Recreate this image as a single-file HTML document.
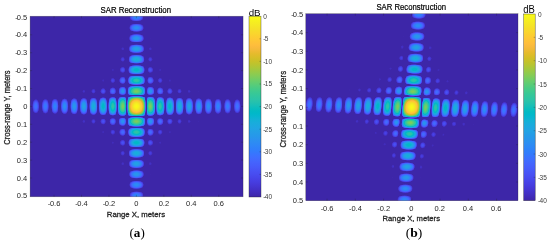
<!DOCTYPE html>
<html lang="en"><head><meta charset="utf-8"><title>SAR Reconstruction</title>
<style>html,body{margin:0;padding:0;background:#fff}svg{display:block}text{white-space:pre;font-family:"Liberation Sans",sans-serif}text.cap{font-family:"Liberation Serif",serif}</style></head>
<body>
<svg width="550" height="244" viewBox="0 0 550 244">
<defs>
<linearGradient id="gua" gradientUnits="userSpaceOnUse" x1="22.025" y1="106.3" x2="250.975" y2="106.3"><stop offset="0" stop-color="#000000"/><stop offset="0.00218" stop-color="#000000"/><stop offset="0.00437" stop-color="#090000"/><stop offset="0.00655" stop-color="#180000"/><stop offset="0.00874" stop-color="#240000"/><stop offset="0.01092" stop-color="#2c0000"/><stop offset="0.0131" stop-color="#310000"/><stop offset="0.01529" stop-color="#350000"/><stop offset="0.01747" stop-color="#380000"/><stop offset="0.01965" stop-color="#370000"/><stop offset="0.02184" stop-color="#340000"/><stop offset="0.02402" stop-color="#2f0000"/><stop offset="0.02621" stop-color="#290000"/><stop offset="0.02839" stop-color="#1f0000"/><stop offset="0.03057" stop-color="#110000"/><stop offset="0.03276" stop-color="#000000"/><stop offset="0.04368" stop-color="#000000"/><stop offset="0.04586" stop-color="#090000"/><stop offset="0.04805" stop-color="#1b0000"/><stop offset="0.05023" stop-color="#260000"/><stop offset="0.05241" stop-color="#2f0000"/><stop offset="0.0546" stop-color="#350000"/><stop offset="0.05678" stop-color="#3a0000"/><stop offset="0.05896" stop-color="#3c0000"/><stop offset="0.06115" stop-color="#3c0000"/><stop offset="0.06333" stop-color="#3a0000"/><stop offset="0.06552" stop-color="#360000"/><stop offset="0.0677" stop-color="#2f0000"/><stop offset="0.06988" stop-color="#260000"/><stop offset="0.07207" stop-color="#1a0000"/><stop offset="0.07425" stop-color="#070000"/><stop offset="0.07644" stop-color="#000000"/><stop offset="0.08517" stop-color="#000000"/><stop offset="0.08736" stop-color="#0b0000"/><stop offset="0.08954" stop-color="#1d0000"/><stop offset="0.09172" stop-color="#2a0000"/><stop offset="0.09391" stop-color="#330000"/><stop offset="0.09609" stop-color="#3a0000"/><stop offset="0.09827" stop-color="#3e0000"/><stop offset="0.10046" stop-color="#410000"/><stop offset="0.10264" stop-color="#420000"/><stop offset="0.10483" stop-color="#400000"/><stop offset="0.10701" stop-color="#3c0000"/><stop offset="0.10919" stop-color="#360000"/><stop offset="0.11138" stop-color="#2e0000"/><stop offset="0.11356" stop-color="#220000"/><stop offset="0.11575" stop-color="#110000"/><stop offset="0.11793" stop-color="#000000"/><stop offset="0.12667" stop-color="#000000"/><stop offset="0.12885" stop-color="#0c0000"/><stop offset="0.13103" stop-color="#200000"/><stop offset="0.13322" stop-color="#2e0000"/><stop offset="0.1354" stop-color="#370000"/><stop offset="0.13758" stop-color="#3f0000"/><stop offset="0.13977" stop-color="#440000"/><stop offset="0.14195" stop-color="#470000"/><stop offset="0.14414" stop-color="#490000"/><stop offset="0.14632" stop-color="#470000"/><stop offset="0.1485" stop-color="#430000"/><stop offset="0.15069" stop-color="#3e0000"/><stop offset="0.15287" stop-color="#360000"/><stop offset="0.15506" stop-color="#2b0000"/><stop offset="0.15724" stop-color="#1c0000"/><stop offset="0.15942" stop-color="#030000"/><stop offset="0.16161" stop-color="#000000"/><stop offset="0.16816" stop-color="#000000"/><stop offset="0.17034" stop-color="#0d0000"/><stop offset="0.17253" stop-color="#230000"/><stop offset="0.17471" stop-color="#320000"/><stop offset="0.17689" stop-color="#3c0000"/><stop offset="0.17908" stop-color="#440000"/><stop offset="0.18126" stop-color="#4a0000"/><stop offset="0.18345" stop-color="#4d0000"/><stop offset="0.18563" stop-color="#4f0000"/><stop offset="0.18781" stop-color="#4e0000"/><stop offset="0.19" stop-color="#4b0000"/><stop offset="0.19218" stop-color="#460000"/><stop offset="0.19437" stop-color="#3f0000"/><stop offset="0.19655" stop-color="#350000"/><stop offset="0.19873" stop-color="#260000"/><stop offset="0.20092" stop-color="#100000"/><stop offset="0.2031" stop-color="#000000"/><stop offset="0.20965" stop-color="#000000"/><stop offset="0.21184" stop-color="#0f0000"/><stop offset="0.21402" stop-color="#270000"/><stop offset="0.2162" stop-color="#370000"/><stop offset="0.21839" stop-color="#420000"/><stop offset="0.22057" stop-color="#4a0000"/><stop offset="0.22276" stop-color="#500000"/><stop offset="0.22494" stop-color="#550000"/><stop offset="0.22712" stop-color="#570000"/><stop offset="0.22931" stop-color="#570000"/><stop offset="0.23149" stop-color="#540000"/><stop offset="0.23368" stop-color="#500000"/><stop offset="0.23586" stop-color="#490000"/><stop offset="0.23804" stop-color="#400000"/><stop offset="0.24023" stop-color="#320000"/><stop offset="0.24241" stop-color="#1e0000"/><stop offset="0.24459" stop-color="#000000"/><stop offset="0.25115" stop-color="#000000"/><stop offset="0.25333" stop-color="#110000"/><stop offset="0.25551" stop-color="#2c0000"/><stop offset="0.2577" stop-color="#3d0000"/><stop offset="0.25988" stop-color="#490000"/><stop offset="0.26207" stop-color="#520000"/><stop offset="0.26425" stop-color="#580000"/><stop offset="0.26643" stop-color="#5d0000"/><stop offset="0.26862" stop-color="#600000"/><stop offset="0.2708" stop-color="#610000"/><stop offset="0.27299" stop-color="#5e0000"/><stop offset="0.27517" stop-color="#5a0000"/><stop offset="0.27735" stop-color="#540000"/><stop offset="0.27954" stop-color="#4b0000"/><stop offset="0.28172" stop-color="#3f0000"/><stop offset="0.2839" stop-color="#2d0000"/><stop offset="0.28609" stop-color="#0e0000"/><stop offset="0.28827" stop-color="#000000"/><stop offset="0.29264" stop-color="#000000"/><stop offset="0.29482" stop-color="#130000"/><stop offset="0.29701" stop-color="#320000"/><stop offset="0.29919" stop-color="#440000"/><stop offset="0.30138" stop-color="#510000"/><stop offset="0.30356" stop-color="#5b0000"/><stop offset="0.30574" stop-color="#620000"/><stop offset="0.30793" stop-color="#670000"/><stop offset="0.31011" stop-color="#6a0000"/><stop offset="0.3123" stop-color="#6c0000"/><stop offset="0.31448" stop-color="#6a0000"/><stop offset="0.31666" stop-color="#670000"/><stop offset="0.31885" stop-color="#610000"/><stop offset="0.32103" stop-color="#590000"/><stop offset="0.32321" stop-color="#4e0000"/><stop offset="0.3254" stop-color="#3d0000"/><stop offset="0.32758" stop-color="#220000"/><stop offset="0.32977" stop-color="#000000"/><stop offset="0.33413" stop-color="#000000"/><stop offset="0.33632" stop-color="#170000"/><stop offset="0.3385" stop-color="#390000"/><stop offset="0.34069" stop-color="#4e0000"/><stop offset="0.34287" stop-color="#5c0000"/><stop offset="0.34505" stop-color="#660000"/><stop offset="0.34724" stop-color="#6e0000"/><stop offset="0.34942" stop-color="#740000"/><stop offset="0.35161" stop-color="#770000"/><stop offset="0.35379" stop-color="#7a0000"/><stop offset="0.35597" stop-color="#790000"/><stop offset="0.35816" stop-color="#760000"/><stop offset="0.36034" stop-color="#710000"/><stop offset="0.36252" stop-color="#6a0000"/><stop offset="0.36471" stop-color="#600000"/><stop offset="0.36689" stop-color="#500000"/><stop offset="0.36908" stop-color="#380000"/><stop offset="0.37126" stop-color="#060000"/><stop offset="0.37344" stop-color="#000000"/><stop offset="0.37563" stop-color="#000000"/><stop offset="0.37781" stop-color="#1c0000"/><stop offset="0.38" stop-color="#440000"/><stop offset="0.38218" stop-color="#5b0000"/><stop offset="0.38436" stop-color="#6b0000"/><stop offset="0.38655" stop-color="#760000"/><stop offset="0.38873" stop-color="#7e0000"/><stop offset="0.39092" stop-color="#850000"/><stop offset="0.3931" stop-color="#890000"/><stop offset="0.39528" stop-color="#8c0000"/><stop offset="0.39747" stop-color="#8d0000"/><stop offset="0.39965" stop-color="#8a0000"/><stop offset="0.40183" stop-color="#860000"/><stop offset="0.40402" stop-color="#800000"/><stop offset="0.4062" stop-color="#770000"/><stop offset="0.40839" stop-color="#690000"/><stop offset="0.41057" stop-color="#540000"/><stop offset="0.41275" stop-color="#2b0000"/><stop offset="0.41494" stop-color="#000000"/><stop offset="0.41712" stop-color="#000000"/><stop offset="0.41931" stop-color="#260000"/><stop offset="0.42149" stop-color="#560000"/><stop offset="0.42367" stop-color="#6f0000"/><stop offset="0.42586" stop-color="#800000"/><stop offset="0.42804" stop-color="#8d0000"/><stop offset="0.43022" stop-color="#960000"/><stop offset="0.43241" stop-color="#9e0000"/><stop offset="0.43459" stop-color="#a30000"/><stop offset="0.43678" stop-color="#a70000"/><stop offset="0.43896" stop-color="#a90000"/><stop offset="0.44114" stop-color="#a90000"/><stop offset="0.44333" stop-color="#a70000"/><stop offset="0.44551" stop-color="#a20000"/><stop offset="0.4477" stop-color="#9a0000"/><stop offset="0.44988" stop-color="#8f0000"/><stop offset="0.45206" stop-color="#7c0000"/><stop offset="0.45425" stop-color="#5b0000"/><stop offset="0.45643" stop-color="#000000"/><stop offset="0.45862" stop-color="#000000"/><stop offset="0.4608" stop-color="#3c0000"/><stop offset="0.46298" stop-color="#780000"/><stop offset="0.46517" stop-color="#950000"/><stop offset="0.46735" stop-color="#aa0000"/><stop offset="0.46953" stop-color="#b90000"/><stop offset="0.47172" stop-color="#c50000"/><stop offset="0.4739" stop-color="#d00000"/><stop offset="0.47609" stop-color="#d80000"/><stop offset="0.47827" stop-color="#df0000"/><stop offset="0.48045" stop-color="#e60000"/><stop offset="0.48264" stop-color="#eb0000"/><stop offset="0.48482" stop-color="#f00000"/><stop offset="0.48701" stop-color="#f40000"/><stop offset="0.48919" stop-color="#f70000"/><stop offset="0.49137" stop-color="#fa0000"/><stop offset="0.49356" stop-color="#fc0000"/><stop offset="0.49574" stop-color="#fd0000"/><stop offset="0.49793" stop-color="#fe0000"/><stop offset="0.50011" stop-color="#ff0000"/><stop offset="0.50229" stop-color="#fe0000"/><stop offset="0.50448" stop-color="#fd0000"/><stop offset="0.50666" stop-color="#fb0000"/><stop offset="0.50884" stop-color="#f90000"/><stop offset="0.51103" stop-color="#f70000"/><stop offset="0.51321" stop-color="#f30000"/><stop offset="0.5154" stop-color="#ef0000"/><stop offset="0.51758" stop-color="#eb0000"/><stop offset="0.51976" stop-color="#e50000"/><stop offset="0.52195" stop-color="#df0000"/><stop offset="0.52413" stop-color="#d70000"/><stop offset="0.52632" stop-color="#cf0000"/><stop offset="0.5285" stop-color="#c40000"/><stop offset="0.53068" stop-color="#b80000"/><stop offset="0.53287" stop-color="#a80000"/><stop offset="0.53505" stop-color="#930000"/><stop offset="0.53724" stop-color="#740000"/><stop offset="0.53942" stop-color="#300000"/><stop offset="0.5416" stop-color="#000000"/><stop offset="0.54379" stop-color="#000000"/><stop offset="0.54597" stop-color="#600000"/><stop offset="0.54815" stop-color="#7f0000"/><stop offset="0.55034" stop-color="#900000"/><stop offset="0.55252" stop-color="#9b0000"/><stop offset="0.55471" stop-color="#a20000"/><stop offset="0.55689" stop-color="#a70000"/><stop offset="0.55907" stop-color="#aa0000"/><stop offset="0.56126" stop-color="#a90000"/><stop offset="0.56344" stop-color="#a70000"/><stop offset="0.56563" stop-color="#a30000"/><stop offset="0.56781" stop-color="#9d0000"/><stop offset="0.56999" stop-color="#960000"/><stop offset="0.57218" stop-color="#8c0000"/><stop offset="0.57436" stop-color="#7f0000"/><stop offset="0.57655" stop-color="#6d0000"/><stop offset="0.57873" stop-color="#520000"/><stop offset="0.58091" stop-color="#1e0000"/><stop offset="0.5831" stop-color="#000000"/><stop offset="0.58528" stop-color="#000000"/><stop offset="0.58746" stop-color="#310000"/><stop offset="0.58965" stop-color="#560000"/><stop offset="0.59183" stop-color="#6b0000"/><stop offset="0.59402" stop-color="#780000"/><stop offset="0.5962" stop-color="#810000"/><stop offset="0.59838" stop-color="#870000"/><stop offset="0.60057" stop-color="#8b0000"/><stop offset="0.60275" stop-color="#8d0000"/><stop offset="0.60494" stop-color="#8c0000"/><stop offset="0.60712" stop-color="#890000"/><stop offset="0.6093" stop-color="#840000"/><stop offset="0.61149" stop-color="#7e0000"/><stop offset="0.61367" stop-color="#750000"/><stop offset="0.61585" stop-color="#690000"/><stop offset="0.61804" stop-color="#590000"/><stop offset="0.62022" stop-color="#420000"/><stop offset="0.62241" stop-color="#160000"/><stop offset="0.62459" stop-color="#000000"/><stop offset="0.62677" stop-color="#000000"/><stop offset="0.62896" stop-color="#0e0000"/><stop offset="0.63114" stop-color="#3b0000"/><stop offset="0.63333" stop-color="#520000"/><stop offset="0.63551" stop-color="#610000"/><stop offset="0.63769" stop-color="#6b0000"/><stop offset="0.63988" stop-color="#720000"/><stop offset="0.64206" stop-color="#760000"/><stop offset="0.64425" stop-color="#790000"/><stop offset="0.64643" stop-color="#7a0000"/><stop offset="0.64861" stop-color="#770000"/><stop offset="0.6508" stop-color="#730000"/><stop offset="0.65298" stop-color="#6d0000"/><stop offset="0.65516" stop-color="#660000"/><stop offset="0.65735" stop-color="#5b0000"/><stop offset="0.65953" stop-color="#4c0000"/><stop offset="0.66172" stop-color="#370000"/><stop offset="0.6639" stop-color="#120000"/><stop offset="0.66608" stop-color="#000000"/><stop offset="0.67045" stop-color="#000000"/><stop offset="0.67264" stop-color="#250000"/><stop offset="0.67482" stop-color="#3f0000"/><stop offset="0.677" stop-color="#4f0000"/><stop offset="0.67919" stop-color="#5a0000"/><stop offset="0.68137" stop-color="#620000"/><stop offset="0.68356" stop-color="#670000"/><stop offset="0.68574" stop-color="#6a0000"/><stop offset="0.68792" stop-color="#6c0000"/><stop offset="0.69011" stop-color="#6a0000"/><stop offset="0.69229" stop-color="#670000"/><stop offset="0.69447" stop-color="#610000"/><stop offset="0.69666" stop-color="#5a0000"/><stop offset="0.69884" stop-color="#500000"/><stop offset="0.70103" stop-color="#430000"/><stop offset="0.70321" stop-color="#2f0000"/><stop offset="0.70539" stop-color="#0f0000"/><stop offset="0.70758" stop-color="#000000"/><stop offset="0.71195" stop-color="#000000"/><stop offset="0.71413" stop-color="#120000"/><stop offset="0.71631" stop-color="#2f0000"/><stop offset="0.7185" stop-color="#410000"/><stop offset="0.72068" stop-color="#4c0000"/><stop offset="0.72287" stop-color="#550000"/><stop offset="0.72505" stop-color="#5b0000"/><stop offset="0.72723" stop-color="#5f0000"/><stop offset="0.72942" stop-color="#610000"/><stop offset="0.7316" stop-color="#600000"/><stop offset="0.73378" stop-color="#5d0000"/><stop offset="0.73597" stop-color="#580000"/><stop offset="0.73815" stop-color="#510000"/><stop offset="0.74034" stop-color="#480000"/><stop offset="0.74252" stop-color="#3b0000"/><stop offset="0.7447" stop-color="#290000"/><stop offset="0.74689" stop-color="#0d0000"/><stop offset="0.74907" stop-color="#000000"/><stop offset="0.75562" stop-color="#000000"/><stop offset="0.75781" stop-color="#200000"/><stop offset="0.75999" stop-color="#340000"/><stop offset="0.76218" stop-color="#410000"/><stop offset="0.76436" stop-color="#4a0000"/><stop offset="0.76654" stop-color="#500000"/><stop offset="0.76873" stop-color="#540000"/><stop offset="0.77091" stop-color="#570000"/><stop offset="0.77309" stop-color="#570000"/><stop offset="0.77528" stop-color="#540000"/><stop offset="0.77746" stop-color="#500000"/><stop offset="0.77965" stop-color="#4a0000"/><stop offset="0.78183" stop-color="#410000"/><stop offset="0.78401" stop-color="#360000"/><stop offset="0.7862" stop-color="#250000"/><stop offset="0.78838" stop-color="#0b0000"/><stop offset="0.79057" stop-color="#000000"/><stop offset="0.79712" stop-color="#000000"/><stop offset="0.7993" stop-color="#130000"/><stop offset="0.80149" stop-color="#280000"/><stop offset="0.80367" stop-color="#360000"/><stop offset="0.80585" stop-color="#400000"/><stop offset="0.80804" stop-color="#470000"/><stop offset="0.81022" stop-color="#4c0000"/><stop offset="0.8124" stop-color="#4f0000"/><stop offset="0.81459" stop-color="#4f0000"/><stop offset="0.81677" stop-color="#4d0000"/><stop offset="0.81896" stop-color="#490000"/><stop offset="0.82114" stop-color="#430000"/><stop offset="0.82332" stop-color="#3c0000"/><stop offset="0.82551" stop-color="#310000"/><stop offset="0.82769" stop-color="#210000"/><stop offset="0.82988" stop-color="#0a0000"/><stop offset="0.83206" stop-color="#000000"/><stop offset="0.83861" stop-color="#000000"/><stop offset="0.84079" stop-color="#060000"/><stop offset="0.84298" stop-color="#1d0000"/><stop offset="0.84516" stop-color="#2d0000"/><stop offset="0.84735" stop-color="#370000"/><stop offset="0.84953" stop-color="#3f0000"/><stop offset="0.85171" stop-color="#440000"/><stop offset="0.8539" stop-color="#470000"/><stop offset="0.85608" stop-color="#490000"/><stop offset="0.85827" stop-color="#470000"/><stop offset="0.86045" stop-color="#430000"/><stop offset="0.86263" stop-color="#3e0000"/><stop offset="0.86482" stop-color="#370000"/><stop offset="0.867" stop-color="#2c0000"/><stop offset="0.86919" stop-color="#1e0000"/><stop offset="0.87137" stop-color="#090000"/><stop offset="0.87355" stop-color="#000000"/><stop offset="0.88229" stop-color="#000000"/><stop offset="0.88447" stop-color="#130000"/><stop offset="0.88666" stop-color="#240000"/><stop offset="0.88884" stop-color="#2f0000"/><stop offset="0.89102" stop-color="#370000"/><stop offset="0.89321" stop-color="#3d0000"/><stop offset="0.89539" stop-color="#400000"/><stop offset="0.89758" stop-color="#420000"/><stop offset="0.89976" stop-color="#410000"/><stop offset="0.90194" stop-color="#3e0000"/><stop offset="0.90413" stop-color="#390000"/><stop offset="0.90631" stop-color="#320000"/><stop offset="0.9085" stop-color="#290000"/><stop offset="0.91068" stop-color="#1b0000"/><stop offset="0.91286" stop-color="#080000"/><stop offset="0.91505" stop-color="#000000"/><stop offset="0.92378" stop-color="#000000"/><stop offset="0.92597" stop-color="#090000"/><stop offset="0.92815" stop-color="#1b0000"/><stop offset="0.93033" stop-color="#270000"/><stop offset="0.93252" stop-color="#300000"/><stop offset="0.9347" stop-color="#360000"/><stop offset="0.93689" stop-color="#3a0000"/><stop offset="0.93907" stop-color="#3d0000"/><stop offset="0.94125" stop-color="#3c0000"/><stop offset="0.94344" stop-color="#390000"/><stop offset="0.94562" stop-color="#350000"/><stop offset="0.94781" stop-color="#2e0000"/><stop offset="0.94999" stop-color="#250000"/><stop offset="0.95217" stop-color="#190000"/><stop offset="0.95436" stop-color="#070000"/><stop offset="0.95654" stop-color="#000000"/><stop offset="0.96746" stop-color="#000000"/><stop offset="0.96964" stop-color="#130000"/><stop offset="0.97183" stop-color="#200000"/><stop offset="0.97401" stop-color="#290000"/><stop offset="0.9762" stop-color="#300000"/><stop offset="0.97838" stop-color="#340000"/><stop offset="0.98056" stop-color="#370000"/><stop offset="0.98275" stop-color="#370000"/><stop offset="0.98493" stop-color="#350000"/><stop offset="0.98712" stop-color="#310000"/><stop offset="0.9893" stop-color="#2b0000"/><stop offset="0.99148" stop-color="#230000"/><stop offset="0.99367" stop-color="#170000"/><stop offset="0.99585" stop-color="#070000"/><stop offset="0.99803" stop-color="#000000"/></linearGradient>
<linearGradient id="gva" gradientUnits="userSpaceOnUse" x1="136.5" y1="8" x2="136.5" y2="204.6"><stop offset="0" stop-color="#003d00"/><stop offset="0.00254" stop-color="#003800"/><stop offset="0.00509" stop-color="#003100"/><stop offset="0.00763" stop-color="#002800"/><stop offset="0.01017" stop-color="#001b00"/><stop offset="0.01272" stop-color="#000800"/><stop offset="0.01526" stop-color="#000000"/><stop offset="0.02543" stop-color="#000000"/><stop offset="0.02798" stop-color="#000b00"/><stop offset="0.03052" stop-color="#001e00"/><stop offset="0.03306" stop-color="#002b00"/><stop offset="0.03561" stop-color="#003500"/><stop offset="0.03815" stop-color="#003c00"/><stop offset="0.04069" stop-color="#004200"/><stop offset="0.04323" stop-color="#004600"/><stop offset="0.04578" stop-color="#004800"/><stop offset="0.04832" stop-color="#004900"/><stop offset="0.05086" stop-color="#004700"/><stop offset="0.05341" stop-color="#004300"/><stop offset="0.05595" stop-color="#003e00"/><stop offset="0.05849" stop-color="#003700"/><stop offset="0.06104" stop-color="#002e00"/><stop offset="0.06358" stop-color="#002100"/><stop offset="0.06612" stop-color="#000e00"/><stop offset="0.06867" stop-color="#000000"/><stop offset="0.07884" stop-color="#000000"/><stop offset="0.08138" stop-color="#001300"/><stop offset="0.08393" stop-color="#002600"/><stop offset="0.08647" stop-color="#003300"/><stop offset="0.08901" stop-color="#003c00"/><stop offset="0.09156" stop-color="#004300"/><stop offset="0.0941" stop-color="#004900"/><stop offset="0.09664" stop-color="#004d00"/><stop offset="0.09919" stop-color="#004f00"/><stop offset="0.10173" stop-color="#004f00"/><stop offset="0.10427" stop-color="#004e00"/><stop offset="0.10682" stop-color="#004a00"/><stop offset="0.10936" stop-color="#004500"/><stop offset="0.1119" stop-color="#003e00"/><stop offset="0.11445" stop-color="#003500"/><stop offset="0.11699" stop-color="#002800"/><stop offset="0.11953" stop-color="#001400"/><stop offset="0.12208" stop-color="#000000"/><stop offset="0.13225" stop-color="#000000"/><stop offset="0.13479" stop-color="#001b00"/><stop offset="0.13733" stop-color="#002e00"/><stop offset="0.13988" stop-color="#003b00"/><stop offset="0.14242" stop-color="#004400"/><stop offset="0.14496" stop-color="#004b00"/><stop offset="0.14751" stop-color="#005100"/><stop offset="0.15005" stop-color="#005400"/><stop offset="0.15259" stop-color="#005700"/><stop offset="0.15514" stop-color="#005700"/><stop offset="0.15768" stop-color="#005500"/><stop offset="0.16022" stop-color="#005200"/><stop offset="0.16277" stop-color="#004d00"/><stop offset="0.16531" stop-color="#004600"/><stop offset="0.16785" stop-color="#003d00"/><stop offset="0.1704" stop-color="#002f00"/><stop offset="0.17294" stop-color="#001c00"/><stop offset="0.17548" stop-color="#000000"/><stop offset="0.18311" stop-color="#000000"/><stop offset="0.18566" stop-color="#000800"/><stop offset="0.1882" stop-color="#002500"/><stop offset="0.19074" stop-color="#003700"/><stop offset="0.19329" stop-color="#004400"/><stop offset="0.19583" stop-color="#004d00"/><stop offset="0.19837" stop-color="#005500"/><stop offset="0.20092" stop-color="#005a00"/><stop offset="0.20346" stop-color="#005e00"/><stop offset="0.206" stop-color="#006000"/><stop offset="0.20855" stop-color="#006100"/><stop offset="0.21109" stop-color="#005f00"/><stop offset="0.21363" stop-color="#005b00"/><stop offset="0.21617" stop-color="#005600"/><stop offset="0.21872" stop-color="#004f00"/><stop offset="0.22126" stop-color="#004600"/><stop offset="0.2238" stop-color="#003800"/><stop offset="0.22635" stop-color="#002400"/><stop offset="0.22889" stop-color="#000200"/><stop offset="0.23143" stop-color="#000000"/><stop offset="0.23652" stop-color="#000000"/><stop offset="0.23906" stop-color="#001400"/><stop offset="0.24161" stop-color="#003000"/><stop offset="0.24415" stop-color="#004200"/><stop offset="0.24669" stop-color="#004f00"/><stop offset="0.24924" stop-color="#005800"/><stop offset="0.25178" stop-color="#006000"/><stop offset="0.25432" stop-color="#006500"/><stop offset="0.25687" stop-color="#006900"/><stop offset="0.25941" stop-color="#006b00"/><stop offset="0.26195" stop-color="#006c00"/><stop offset="0.2645" stop-color="#006a00"/><stop offset="0.26704" stop-color="#006700"/><stop offset="0.26958" stop-color="#006200"/><stop offset="0.27213" stop-color="#005b00"/><stop offset="0.27467" stop-color="#005100"/><stop offset="0.27721" stop-color="#004400"/><stop offset="0.27976" stop-color="#003000"/><stop offset="0.2823" stop-color="#000c00"/><stop offset="0.28484" stop-color="#000000"/><stop offset="0.28993" stop-color="#000000"/><stop offset="0.29247" stop-color="#002200"/><stop offset="0.29502" stop-color="#003e00"/><stop offset="0.29756" stop-color="#005000"/><stop offset="0.3001" stop-color="#005c00"/><stop offset="0.30264" stop-color="#006600"/><stop offset="0.30519" stop-color="#006d00"/><stop offset="0.30773" stop-color="#007300"/><stop offset="0.31027" stop-color="#007600"/><stop offset="0.31282" stop-color="#007900"/><stop offset="0.31536" stop-color="#007a00"/><stop offset="0.3179" stop-color="#007800"/><stop offset="0.32045" stop-color="#007500"/><stop offset="0.32299" stop-color="#007000"/><stop offset="0.32553" stop-color="#006900"/><stop offset="0.32808" stop-color="#006000"/><stop offset="0.33062" stop-color="#005200"/><stop offset="0.33316" stop-color="#003e00"/><stop offset="0.33571" stop-color="#001a00"/><stop offset="0.33825" stop-color="#000000"/><stop offset="0.34334" stop-color="#000000"/><stop offset="0.34588" stop-color="#003400"/><stop offset="0.34842" stop-color="#004f00"/><stop offset="0.35097" stop-color="#006100"/><stop offset="0.35351" stop-color="#006e00"/><stop offset="0.35605" stop-color="#007700"/><stop offset="0.3586" stop-color="#007f00"/><stop offset="0.36114" stop-color="#008400"/><stop offset="0.36368" stop-color="#008900"/><stop offset="0.36623" stop-color="#008b00"/><stop offset="0.36877" stop-color="#008d00"/><stop offset="0.37131" stop-color="#008c00"/><stop offset="0.37386" stop-color="#008900"/><stop offset="0.3764" stop-color="#008400"/><stop offset="0.37894" stop-color="#007e00"/><stop offset="0.38149" stop-color="#007400"/><stop offset="0.38403" stop-color="#006700"/><stop offset="0.38657" stop-color="#005300"/><stop offset="0.38911" stop-color="#002e00"/><stop offset="0.39166" stop-color="#000000"/><stop offset="0.3942" stop-color="#000000"/><stop offset="0.39674" stop-color="#001600"/><stop offset="0.39929" stop-color="#004c00"/><stop offset="0.40183" stop-color="#006800"/><stop offset="0.40437" stop-color="#007a00"/><stop offset="0.40692" stop-color="#008700"/><stop offset="0.40946" stop-color="#009100"/><stop offset="0.412" stop-color="#009900"/><stop offset="0.41455" stop-color="#009f00"/><stop offset="0.41709" stop-color="#00a400"/><stop offset="0.41963" stop-color="#00a700"/><stop offset="0.42218" stop-color="#00a900"/><stop offset="0.42472" stop-color="#00aa00"/><stop offset="0.42726" stop-color="#00a800"/><stop offset="0.42981" stop-color="#00a400"/><stop offset="0.43235" stop-color="#009e00"/><stop offset="0.43489" stop-color="#009600"/><stop offset="0.43744" stop-color="#008900"/><stop offset="0.43998" stop-color="#007600"/><stop offset="0.44252" stop-color="#005000"/><stop offset="0.44507" stop-color="#000000"/><stop offset="0.44761" stop-color="#000000"/><stop offset="0.45015" stop-color="#004100"/><stop offset="0.4527" stop-color="#007700"/><stop offset="0.45524" stop-color="#009300"/><stop offset="0.45778" stop-color="#00a600"/><stop offset="0.46033" stop-color="#00b500"/><stop offset="0.46287" stop-color="#00c100"/><stop offset="0.46541" stop-color="#00cb00"/><stop offset="0.46796" stop-color="#00d400"/><stop offset="0.4705" stop-color="#00db00"/><stop offset="0.47304" stop-color="#00e100"/><stop offset="0.47558" stop-color="#00e700"/><stop offset="0.47813" stop-color="#00ec00"/><stop offset="0.48067" stop-color="#00f000"/><stop offset="0.48321" stop-color="#00f300"/><stop offset="0.48576" stop-color="#00f700"/><stop offset="0.4883" stop-color="#00f900"/><stop offset="0.49084" stop-color="#00fb00"/><stop offset="0.49339" stop-color="#00fd00"/><stop offset="0.49593" stop-color="#00fe00"/><stop offset="0.49847" stop-color="#00ff00"/><stop offset="0.50102" stop-color="#00ff00"/><stop offset="0.50356" stop-color="#00fe00"/><stop offset="0.5061" stop-color="#00fd00"/><stop offset="0.50865" stop-color="#00fb00"/><stop offset="0.51119" stop-color="#00f900"/><stop offset="0.51373" stop-color="#00f700"/><stop offset="0.51628" stop-color="#00f400"/><stop offset="0.51882" stop-color="#00f100"/><stop offset="0.52136" stop-color="#00ed00"/><stop offset="0.52391" stop-color="#00e800"/><stop offset="0.52645" stop-color="#00e300"/><stop offset="0.52899" stop-color="#00dc00"/><stop offset="0.53154" stop-color="#00d500"/><stop offset="0.53408" stop-color="#00cd00"/><stop offset="0.53662" stop-color="#00c300"/><stop offset="0.53917" stop-color="#00b800"/><stop offset="0.54171" stop-color="#00a900"/><stop offset="0.54425" stop-color="#009700"/><stop offset="0.5468" stop-color="#007d00"/><stop offset="0.54934" stop-color="#005000"/><stop offset="0.55188" stop-color="#000000"/><stop offset="0.55443" stop-color="#000000"/><stop offset="0.55697" stop-color="#004400"/><stop offset="0.55951" stop-color="#007000"/><stop offset="0.56205" stop-color="#008600"/><stop offset="0.5646" stop-color="#009400"/><stop offset="0.56714" stop-color="#009d00"/><stop offset="0.56968" stop-color="#00a300"/><stop offset="0.57223" stop-color="#00a700"/><stop offset="0.57477" stop-color="#00a900"/><stop offset="0.57731" stop-color="#00aa00"/><stop offset="0.57986" stop-color="#00a800"/><stop offset="0.5824" stop-color="#00a500"/><stop offset="0.58494" stop-color="#00a000"/><stop offset="0.58749" stop-color="#009a00"/><stop offset="0.59003" stop-color="#009300"/><stop offset="0.59257" stop-color="#008900"/><stop offset="0.59512" stop-color="#007d00"/><stop offset="0.59766" stop-color="#006c00"/><stop offset="0.6002" stop-color="#005300"/><stop offset="0.60275" stop-color="#002600"/><stop offset="0.60529" stop-color="#000000"/><stop offset="0.60783" stop-color="#000000"/><stop offset="0.61038" stop-color="#002100"/><stop offset="0.61292" stop-color="#004d00"/><stop offset="0.61546" stop-color="#006400"/><stop offset="0.61801" stop-color="#007200"/><stop offset="0.62055" stop-color="#007c00"/><stop offset="0.62309" stop-color="#008300"/><stop offset="0.62564" stop-color="#008800"/><stop offset="0.62818" stop-color="#008b00"/><stop offset="0.63072" stop-color="#008d00"/><stop offset="0.63327" stop-color="#008c00"/><stop offset="0.63581" stop-color="#008900"/><stop offset="0.63835" stop-color="#008500"/><stop offset="0.6409" stop-color="#008000"/><stop offset="0.64344" stop-color="#007900"/><stop offset="0.64598" stop-color="#007000"/><stop offset="0.64852" stop-color="#006400"/><stop offset="0.65107" stop-color="#005300"/><stop offset="0.65361" stop-color="#003b00"/><stop offset="0.65615" stop-color="#000c00"/><stop offset="0.6587" stop-color="#000000"/><stop offset="0.66124" stop-color="#000000"/><stop offset="0.66378" stop-color="#000e00"/><stop offset="0.66633" stop-color="#003900"/><stop offset="0.66887" stop-color="#004f00"/><stop offset="0.67141" stop-color="#005e00"/><stop offset="0.67396" stop-color="#006800"/><stop offset="0.6765" stop-color="#006f00"/><stop offset="0.67904" stop-color="#007400"/><stop offset="0.68159" stop-color="#007800"/><stop offset="0.68413" stop-color="#007a00"/><stop offset="0.68667" stop-color="#007900"/><stop offset="0.68922" stop-color="#007700"/><stop offset="0.69176" stop-color="#007300"/><stop offset="0.6943" stop-color="#006e00"/><stop offset="0.69685" stop-color="#006700"/><stop offset="0.69939" stop-color="#005e00"/><stop offset="0.70193" stop-color="#005200"/><stop offset="0.70448" stop-color="#004200"/><stop offset="0.70702" stop-color="#002900"/><stop offset="0.70956" stop-color="#000000"/><stop offset="0.71465" stop-color="#000000"/><stop offset="0.71719" stop-color="#000100"/><stop offset="0.71974" stop-color="#002a00"/><stop offset="0.72228" stop-color="#004000"/><stop offset="0.72482" stop-color="#004f00"/><stop offset="0.72737" stop-color="#005900"/><stop offset="0.72991" stop-color="#006100"/><stop offset="0.73245" stop-color="#006600"/><stop offset="0.73499" stop-color="#006a00"/><stop offset="0.73754" stop-color="#006c00"/><stop offset="0.74008" stop-color="#006b00"/><stop offset="0.74262" stop-color="#006900"/><stop offset="0.74517" stop-color="#006600"/><stop offset="0.74771" stop-color="#006100"/><stop offset="0.75025" stop-color="#005a00"/><stop offset="0.7528" stop-color="#005100"/><stop offset="0.75534" stop-color="#004500"/><stop offset="0.75788" stop-color="#003400"/><stop offset="0.76043" stop-color="#001b00"/><stop offset="0.76297" stop-color="#000000"/><stop offset="0.7706" stop-color="#000000"/><stop offset="0.77314" stop-color="#001f00"/><stop offset="0.77569" stop-color="#003500"/><stop offset="0.77823" stop-color="#004400"/><stop offset="0.78077" stop-color="#004e00"/><stop offset="0.78332" stop-color="#005500"/><stop offset="0.78586" stop-color="#005b00"/><stop offset="0.7884" stop-color="#005e00"/><stop offset="0.79095" stop-color="#006000"/><stop offset="0.79349" stop-color="#006000"/><stop offset="0.79603" stop-color="#005e00"/><stop offset="0.79858" stop-color="#005b00"/><stop offset="0.80112" stop-color="#005600"/><stop offset="0.80366" stop-color="#004f00"/><stop offset="0.80621" stop-color="#004600"/><stop offset="0.80875" stop-color="#003a00"/><stop offset="0.81129" stop-color="#002900"/><stop offset="0.81384" stop-color="#001000"/><stop offset="0.81638" stop-color="#000000"/><stop offset="0.82401" stop-color="#000000"/><stop offset="0.82655" stop-color="#001600"/><stop offset="0.82909" stop-color="#002c00"/><stop offset="0.83164" stop-color="#003a00"/><stop offset="0.83418" stop-color="#004400"/><stop offset="0.83672" stop-color="#004c00"/><stop offset="0.83927" stop-color="#005100"/><stop offset="0.84181" stop-color="#005500"/><stop offset="0.84435" stop-color="#005700"/><stop offset="0.8469" stop-color="#005700"/><stop offset="0.84944" stop-color="#005500"/><stop offset="0.85198" stop-color="#005200"/><stop offset="0.85453" stop-color="#004d00"/><stop offset="0.85707" stop-color="#004600"/><stop offset="0.85961" stop-color="#003d00"/><stop offset="0.86216" stop-color="#003100"/><stop offset="0.8647" stop-color="#002000"/><stop offset="0.86724" stop-color="#000600"/><stop offset="0.86979" stop-color="#000000"/><stop offset="0.87742" stop-color="#000000"/><stop offset="0.87996" stop-color="#000f00"/><stop offset="0.8825" stop-color="#002400"/><stop offset="0.88505" stop-color="#003200"/><stop offset="0.88759" stop-color="#003d00"/><stop offset="0.89013" stop-color="#004400"/><stop offset="0.89268" stop-color="#004900"/><stop offset="0.89522" stop-color="#004d00"/><stop offset="0.89776" stop-color="#004f00"/><stop offset="0.90031" stop-color="#004f00"/><stop offset="0.90285" stop-color="#004d00"/><stop offset="0.90539" stop-color="#004a00"/><stop offset="0.90793" stop-color="#004500"/><stop offset="0.91048" stop-color="#003e00"/><stop offset="0.91302" stop-color="#003500"/><stop offset="0.91556" stop-color="#002900"/><stop offset="0.91811" stop-color="#001700"/><stop offset="0.92065" stop-color="#000000"/><stop offset="0.93082" stop-color="#000000"/><stop offset="0.93337" stop-color="#000900"/><stop offset="0.93591" stop-color="#001e00"/><stop offset="0.93845" stop-color="#002c00"/><stop offset="0.941" stop-color="#003600"/><stop offset="0.94354" stop-color="#003d00"/><stop offset="0.94608" stop-color="#004200"/><stop offset="0.94863" stop-color="#004600"/><stop offset="0.95117" stop-color="#004800"/><stop offset="0.95371" stop-color="#004800"/><stop offset="0.95626" stop-color="#004600"/><stop offset="0.9588" stop-color="#004300"/><stop offset="0.96134" stop-color="#003e00"/><stop offset="0.96389" stop-color="#003700"/><stop offset="0.96643" stop-color="#002e00"/><stop offset="0.96897" stop-color="#002100"/><stop offset="0.97152" stop-color="#001000"/><stop offset="0.97406" stop-color="#000000"/><stop offset="0.98423" stop-color="#000000"/><stop offset="0.98678" stop-color="#000300"/><stop offset="0.98932" stop-color="#001800"/><stop offset="0.99186" stop-color="#002600"/><stop offset="0.9944" stop-color="#003000"/><stop offset="0.99695" stop-color="#003700"/><stop offset="0.99949" stop-color="#003c00"/></linearGradient>
<clipPath id="cpa"><rect x="30.1" y="16.2" width="212.95" height="180.6"/></clipPath>
<filter id="pma" filterUnits="userSpaceOnUse" x="28" y="14" width="218" height="185" color-interpolation-filters="sRGB"><feColorMatrix type="matrix" values="1 1 0 0 -1 1 1 0 0 -1 1 1 0 0 -1 0 0 0 0 1"/><feComponentTransfer><feFuncR type="table" tableValues="0.2422 0.2504 0.2578 0.2647 0.2706 0.2751 0.2783 0.2803 0.2813 0.281 0.2795 0.276 0.2699 0.2602 0.244 0.2206 0.1963 0.1834 0.1786 0.1764 0.1687 0.154 0.146 0.138 0.1248 0.1113 0.0952 0.0689 0.0297 0.0036 0.0067 0.0433 0.0964 0.1408 0.1717 0.1938 0.2161 0.247 0.2906 0.3406 0.3909 0.4456 0.5044 0.5616 0.6174 0.672 0.7242 0.7738 0.8203 0.8634 0.9035 0.9393 0.9728 0.9956 0.997 0.9952 0.9892 0.9786 0.9676 0.961 0.9597 0.9628 0.9691 0.9769"/><feFuncG type="table" tableValues="0.1504 0.165 0.1818 0.1978 0.2147 0.2342 0.2559 0.2782 0.3006 0.3228 0.3447 0.3667 0.3892 0.4123 0.4358 0.4603 0.4847 0.5074 0.5289 0.5499 0.5703 0.5902 0.6091 0.6276 0.6459 0.6635 0.6798 0.6948 0.7082 0.7203 0.7312 0.7411 0.75 0.7584 0.767 0.7758 0.7843 0.7918 0.7973 0.8008 0.8029 0.8024 0.7993 0.7942 0.7876 0.7793 0.7698 0.7598 0.7498 0.7406 0.733 0.7288 0.7298 0.7434 0.7659 0.7893 0.8136 0.8386 0.8639 0.889 0.9135 0.9373 0.9606 0.9839"/><feFuncB type="table" tableValues="0.6603 0.7076 0.7511 0.7952 0.8364 0.871 0.8991 0.9221 0.9414 0.9579 0.9717 0.9829 0.9906 0.9952 0.9988 0.9973 0.9892 0.9798 0.9682 0.952 0.9359 0.9218 0.9079 0.8973 0.8883 0.8763 0.8598 0.8394 0.8163 0.7917 0.766 0.7394 0.712 0.6842 0.6554 0.6251 0.5923 0.5567 0.5188 0.4789 0.4354 0.3909 0.348 0.3045 0.2612 0.2227 0.191 0.1646 0.1535 0.1596 0.1774 0.21 0.2394 0.2371 0.2199 0.2028 0.1885 0.1766 0.1643 0.1537 0.1423 0.1265 0.1064 0.0805"/></feComponentTransfer></filter>
<linearGradient id="cba" x1="0" y1="0" x2="0" y2="1"><stop offset="0" stop-color="#f9fb15"/><stop offset="0.0159" stop-color="#f7f51b"/><stop offset="0.0317" stop-color="#f6ef20"/><stop offset="0.0476" stop-color="#f5e924"/><stop offset="0.0635" stop-color="#f5e327"/><stop offset="0.0794" stop-color="#f7dc2a"/><stop offset="0.0952" stop-color="#fad62d"/><stop offset="0.1111" stop-color="#fccf30"/><stop offset="0.127" stop-color="#fec934"/><stop offset="0.1429" stop-color="#fec338"/><stop offset="0.1587" stop-color="#febe3c"/><stop offset="0.1746" stop-color="#f8ba3d"/><stop offset="0.1905" stop-color="#f0ba36"/><stop offset="0.2063" stop-color="#e6bb2d"/><stop offset="0.2222" stop-color="#dcbd29"/><stop offset="0.2381" stop-color="#d1bf27"/><stop offset="0.254" stop-color="#c5c22a"/><stop offset="0.2698" stop-color="#b9c431"/><stop offset="0.2857" stop-color="#abc739"/><stop offset="0.3016" stop-color="#9dc943"/><stop offset="0.3175" stop-color="#8fcb4e"/><stop offset="0.3333" stop-color="#81cc59"/><stop offset="0.3492" stop-color="#72cd64"/><stop offset="0.3651" stop-color="#64cd6f"/><stop offset="0.381" stop-color="#57cc7a"/><stop offset="0.3968" stop-color="#4acb84"/><stop offset="0.4127" stop-color="#3fca8e"/><stop offset="0.4286" stop-color="#37c897"/><stop offset="0.4444" stop-color="#31c69f"/><stop offset="0.4603" stop-color="#2cc4a7"/><stop offset="0.4762" stop-color="#24c1ae"/><stop offset="0.4921" stop-color="#19bfb6"/><stop offset="0.5079" stop-color="#0bbdbd"/><stop offset="0.5238" stop-color="#02bac3"/><stop offset="0.5397" stop-color="#01b8ca"/><stop offset="0.5556" stop-color="#08b5d0"/><stop offset="0.5714" stop-color="#12b1d6"/><stop offset="0.5873" stop-color="#18addb"/><stop offset="0.6032" stop-color="#1ca9df"/><stop offset="0.619" stop-color="#20a5e3"/><stop offset="0.6349" stop-color="#23a0e5"/><stop offset="0.6508" stop-color="#259be8"/><stop offset="0.6667" stop-color="#2797eb"/><stop offset="0.6825" stop-color="#2b91ef"/><stop offset="0.6984" stop-color="#2d8cf3"/><stop offset="0.7143" stop-color="#2e87f7"/><stop offset="0.7302" stop-color="#2f81fa"/><stop offset="0.746" stop-color="#327cfc"/><stop offset="0.7619" stop-color="#3875fe"/><stop offset="0.7778" stop-color="#3e6fff"/><stop offset="0.7937" stop-color="#4269fe"/><stop offset="0.8095" stop-color="#4563fd"/><stop offset="0.8254" stop-color="#465efb"/><stop offset="0.8413" stop-color="#4758f8"/><stop offset="0.8571" stop-color="#4852f4"/><stop offset="0.873" stop-color="#484df0"/><stop offset="0.8889" stop-color="#4747eb"/><stop offset="0.9048" stop-color="#4741e5"/><stop offset="0.9206" stop-color="#463cde"/><stop offset="0.9365" stop-color="#4537d5"/><stop offset="0.9524" stop-color="#4332cb"/><stop offset="0.9683" stop-color="#422ec0"/><stop offset="0.9841" stop-color="#402ab4"/><stop offset="1" stop-color="#3e26a8"/></linearGradient>
<linearGradient id="gub" gradientUnits="userSpaceOnUse" x1="291.015" y1="97.815" x2="532.185" y2="116.385"><stop offset="0" stop-color="#310000"/><stop offset="0.00206" stop-color="#2d0000"/><stop offset="0.00412" stop-color="#280000"/><stop offset="0.00618" stop-color="#200000"/><stop offset="0.00824" stop-color="#150000"/><stop offset="0.01031" stop-color="#050000"/><stop offset="0.01237" stop-color="#000000"/><stop offset="0.02267" stop-color="#000000"/><stop offset="0.02473" stop-color="#0b0000"/><stop offset="0.02679" stop-color="#1a0000"/><stop offset="0.02885" stop-color="#250000"/><stop offset="0.03092" stop-color="#2c0000"/><stop offset="0.03298" stop-color="#320000"/><stop offset="0.03504" stop-color="#360000"/><stop offset="0.0371" stop-color="#380000"/><stop offset="0.03916" stop-color="#370000"/><stop offset="0.04122" stop-color="#340000"/><stop offset="0.04328" stop-color="#300000"/><stop offset="0.04534" stop-color="#290000"/><stop offset="0.0474" stop-color="#200000"/><stop offset="0.04946" stop-color="#120000"/><stop offset="0.05153" stop-color="#000000"/><stop offset="0.06183" stop-color="#000000"/><stop offset="0.06389" stop-color="#060000"/><stop offset="0.06595" stop-color="#180000"/><stop offset="0.06801" stop-color="#240000"/><stop offset="0.07007" stop-color="#2d0000"/><stop offset="0.07214" stop-color="#340000"/><stop offset="0.0742" stop-color="#390000"/><stop offset="0.07626" stop-color="#3c0000"/><stop offset="0.07832" stop-color="#3d0000"/><stop offset="0.08038" stop-color="#3b0000"/><stop offset="0.08244" stop-color="#370000"/><stop offset="0.0845" stop-color="#320000"/><stop offset="0.08656" stop-color="#2a0000"/><stop offset="0.08862" stop-color="#1f0000"/><stop offset="0.09068" stop-color="#0f0000"/><stop offset="0.09275" stop-color="#000000"/><stop offset="0.10305" stop-color="#000000"/><stop offset="0.10511" stop-color="#150000"/><stop offset="0.10717" stop-color="#240000"/><stop offset="0.10923" stop-color="#2f0000"/><stop offset="0.11129" stop-color="#360000"/><stop offset="0.11336" stop-color="#3c0000"/><stop offset="0.11542" stop-color="#400000"/><stop offset="0.11748" stop-color="#420000"/><stop offset="0.11954" stop-color="#420000"/><stop offset="0.1216" stop-color="#3f0000"/><stop offset="0.12366" stop-color="#3a0000"/><stop offset="0.12572" stop-color="#340000"/><stop offset="0.12778" stop-color="#2b0000"/><stop offset="0.12984" stop-color="#1e0000"/><stop offset="0.1319" stop-color="#0b0000"/><stop offset="0.13397" stop-color="#000000"/><stop offset="0.14221" stop-color="#000000"/><stop offset="0.14427" stop-color="#100000"/><stop offset="0.14633" stop-color="#230000"/><stop offset="0.14839" stop-color="#2f0000"/><stop offset="0.15045" stop-color="#390000"/><stop offset="0.15252" stop-color="#3f0000"/><stop offset="0.15458" stop-color="#440000"/><stop offset="0.15664" stop-color="#470000"/><stop offset="0.1587" stop-color="#490000"/><stop offset="0.16076" stop-color="#470000"/><stop offset="0.16282" stop-color="#430000"/><stop offset="0.16488" stop-color="#3e0000"/><stop offset="0.16694" stop-color="#360000"/><stop offset="0.169" stop-color="#2c0000"/><stop offset="0.17106" stop-color="#1c0000"/><stop offset="0.17313" stop-color="#050000"/><stop offset="0.17519" stop-color="#000000"/><stop offset="0.18137" stop-color="#000000"/><stop offset="0.18343" stop-color="#0a0000"/><stop offset="0.18549" stop-color="#210000"/><stop offset="0.18755" stop-color="#300000"/><stop offset="0.18961" stop-color="#3b0000"/><stop offset="0.19167" stop-color="#430000"/><stop offset="0.19374" stop-color="#490000"/><stop offset="0.1958" stop-color="#4d0000"/><stop offset="0.19786" stop-color="#4f0000"/><stop offset="0.19992" stop-color="#4f0000"/><stop offset="0.20198" stop-color="#4c0000"/><stop offset="0.20404" stop-color="#480000"/><stop offset="0.2061" stop-color="#420000"/><stop offset="0.20816" stop-color="#390000"/><stop offset="0.21022" stop-color="#2c0000"/><stop offset="0.21228" stop-color="#1a0000"/><stop offset="0.21435" stop-color="#000000"/><stop offset="0.22259" stop-color="#000000"/><stop offset="0.22465" stop-color="#1d0000"/><stop offset="0.22671" stop-color="#300000"/><stop offset="0.22877" stop-color="#3d0000"/><stop offset="0.23083" stop-color="#470000"/><stop offset="0.23289" stop-color="#4e0000"/><stop offset="0.23496" stop-color="#530000"/><stop offset="0.23702" stop-color="#560000"/><stop offset="0.23908" stop-color="#580000"/><stop offset="0.24114" stop-color="#560000"/><stop offset="0.2432" stop-color="#530000"/><stop offset="0.24526" stop-color="#4d0000"/><stop offset="0.24732" stop-color="#460000"/><stop offset="0.24938" stop-color="#3c0000"/><stop offset="0.25144" stop-color="#2d0000"/><stop offset="0.2535" stop-color="#160000"/><stop offset="0.25557" stop-color="#000000"/><stop offset="0.26175" stop-color="#000000"/><stop offset="0.26381" stop-color="#190000"/><stop offset="0.26587" stop-color="#300000"/><stop offset="0.26793" stop-color="#400000"/><stop offset="0.26999" stop-color="#4b0000"/><stop offset="0.27205" stop-color="#530000"/><stop offset="0.27411" stop-color="#590000"/><stop offset="0.27618" stop-color="#5d0000"/><stop offset="0.27824" stop-color="#600000"/><stop offset="0.2803" stop-color="#600000"/><stop offset="0.28236" stop-color="#5e0000"/><stop offset="0.28442" stop-color="#5a0000"/><stop offset="0.28648" stop-color="#540000"/><stop offset="0.28854" stop-color="#4b0000"/><stop offset="0.2906" stop-color="#3f0000"/><stop offset="0.29266" stop-color="#2d0000"/><stop offset="0.29473" stop-color="#0f0000"/><stop offset="0.29679" stop-color="#000000"/><stop offset="0.30091" stop-color="#000000"/><stop offset="0.30297" stop-color="#100000"/><stop offset="0.30503" stop-color="#300000"/><stop offset="0.30709" stop-color="#430000"/><stop offset="0.30915" stop-color="#500000"/><stop offset="0.31121" stop-color="#5a0000"/><stop offset="0.31327" stop-color="#610000"/><stop offset="0.31534" stop-color="#660000"/><stop offset="0.3174" stop-color="#6a0000"/><stop offset="0.31946" stop-color="#6c0000"/><stop offset="0.32152" stop-color="#6b0000"/><stop offset="0.32358" stop-color="#680000"/><stop offset="0.32564" stop-color="#630000"/><stop offset="0.3277" stop-color="#5c0000"/><stop offset="0.32976" stop-color="#520000"/><stop offset="0.33182" stop-color="#430000"/><stop offset="0.33388" stop-color="#2d0000"/><stop offset="0.33595" stop-color="#020000"/><stop offset="0.33801" stop-color="#000000"/><stop offset="0.34213" stop-color="#000000"/><stop offset="0.34419" stop-color="#2e0000"/><stop offset="0.34625" stop-color="#460000"/><stop offset="0.34831" stop-color="#570000"/><stop offset="0.35037" stop-color="#620000"/><stop offset="0.35243" stop-color="#6b0000"/><stop offset="0.35449" stop-color="#710000"/><stop offset="0.35656" stop-color="#760000"/><stop offset="0.35862" stop-color="#790000"/><stop offset="0.36068" stop-color="#7a0000"/><stop offset="0.36274" stop-color="#780000"/><stop offset="0.3648" stop-color="#740000"/><stop offset="0.36686" stop-color="#6f0000"/><stop offset="0.36892" stop-color="#660000"/><stop offset="0.37098" stop-color="#5b0000"/><stop offset="0.37304" stop-color="#490000"/><stop offset="0.3751" stop-color="#2c0000"/><stop offset="0.37717" stop-color="#000000"/><stop offset="0.38129" stop-color="#000000"/><stop offset="0.38335" stop-color="#2b0000"/><stop offset="0.38541" stop-color="#4c0000"/><stop offset="0.38747" stop-color="#600000"/><stop offset="0.38953" stop-color="#6e0000"/><stop offset="0.39159" stop-color="#780000"/><stop offset="0.39365" stop-color="#800000"/><stop offset="0.39571" stop-color="#860000"/><stop offset="0.39778" stop-color="#8a0000"/><stop offset="0.39984" stop-color="#8c0000"/><stop offset="0.4019" stop-color="#8c0000"/><stop offset="0.40396" stop-color="#8a0000"/><stop offset="0.40602" stop-color="#860000"/><stop offset="0.40808" stop-color="#7f0000"/><stop offset="0.41014" stop-color="#760000"/><stop offset="0.4122" stop-color="#680000"/><stop offset="0.41426" stop-color="#530000"/><stop offset="0.41632" stop-color="#2a0000"/><stop offset="0.41839" stop-color="#000000"/><stop offset="0.42045" stop-color="#000000"/><stop offset="0.42251" stop-color="#240000"/><stop offset="0.42457" stop-color="#550000"/><stop offset="0.42663" stop-color="#6e0000"/><stop offset="0.42869" stop-color="#7f0000"/><stop offset="0.43075" stop-color="#8c0000"/><stop offset="0.43281" stop-color="#960000"/><stop offset="0.43487" stop-color="#9d0000"/><stop offset="0.43694" stop-color="#a20000"/><stop offset="0.439" stop-color="#a70000"/><stop offset="0.44106" stop-color="#a90000"/><stop offset="0.44312" stop-color="#aa0000"/><stop offset="0.44518" stop-color="#a70000"/><stop offset="0.44724" stop-color="#a30000"/><stop offset="0.4493" stop-color="#9c0000"/><stop offset="0.45136" stop-color="#920000"/><stop offset="0.45342" stop-color="#830000"/><stop offset="0.45548" stop-color="#680000"/><stop offset="0.45755" stop-color="#240000"/><stop offset="0.45961" stop-color="#000000"/><stop offset="0.46167" stop-color="#070000"/><stop offset="0.46373" stop-color="#690000"/><stop offset="0.46579" stop-color="#8c0000"/><stop offset="0.46785" stop-color="#a30000"/><stop offset="0.46991" stop-color="#b30000"/><stop offset="0.47197" stop-color="#c10000"/><stop offset="0.47403" stop-color="#cb0000"/><stop offset="0.47609" stop-color="#d40000"/><stop offset="0.47816" stop-color="#dc0000"/><stop offset="0.48022" stop-color="#e30000"/><stop offset="0.48228" stop-color="#e90000"/><stop offset="0.48434" stop-color="#ed0000"/><stop offset="0.4864" stop-color="#f20000"/><stop offset="0.48846" stop-color="#f50000"/><stop offset="0.49052" stop-color="#f80000"/><stop offset="0.49258" stop-color="#fb0000"/><stop offset="0.49464" stop-color="#fc0000"/><stop offset="0.4967" stop-color="#fe0000"/><stop offset="0.49877" stop-color="#ff0000"/><stop offset="0.50083" stop-color="#ff0000"/><stop offset="0.50289" stop-color="#fe0000"/><stop offset="0.50495" stop-color="#fd0000"/><stop offset="0.50701" stop-color="#fb0000"/><stop offset="0.50907" stop-color="#f90000"/><stop offset="0.51113" stop-color="#f60000"/><stop offset="0.51319" stop-color="#f20000"/><stop offset="0.51525" stop-color="#ee0000"/><stop offset="0.51731" stop-color="#ea0000"/><stop offset="0.51938" stop-color="#e40000"/><stop offset="0.52144" stop-color="#de0000"/><stop offset="0.5235" stop-color="#d60000"/><stop offset="0.52556" stop-color="#cd0000"/><stop offset="0.52762" stop-color="#c30000"/><stop offset="0.52968" stop-color="#b60000"/><stop offset="0.53174" stop-color="#a60000"/><stop offset="0.5338" stop-color="#910000"/><stop offset="0.53586" stop-color="#720000"/><stop offset="0.53792" stop-color="#2b0000"/><stop offset="0.53999" stop-color="#000000"/><stop offset="0.54205" stop-color="#000000"/><stop offset="0.54411" stop-color="#600000"/><stop offset="0.54617" stop-color="#7f0000"/><stop offset="0.54823" stop-color="#900000"/><stop offset="0.55029" stop-color="#9b0000"/><stop offset="0.55235" stop-color="#a20000"/><stop offset="0.55441" stop-color="#a70000"/><stop offset="0.55647" stop-color="#a90000"/><stop offset="0.55853" stop-color="#a90000"/><stop offset="0.5606" stop-color="#a70000"/><stop offset="0.56266" stop-color="#a30000"/><stop offset="0.56472" stop-color="#9e0000"/><stop offset="0.56678" stop-color="#970000"/><stop offset="0.56884" stop-color="#8e0000"/><stop offset="0.5709" stop-color="#820000"/><stop offset="0.57296" stop-color="#720000"/><stop offset="0.57502" stop-color="#5b0000"/><stop offset="0.57708" stop-color="#320000"/><stop offset="0.57915" stop-color="#000000"/><stop offset="0.58121" stop-color="#000000"/><stop offset="0.58327" stop-color="#1c0000"/><stop offset="0.58533" stop-color="#4d0000"/><stop offset="0.58739" stop-color="#650000"/><stop offset="0.58945" stop-color="#740000"/><stop offset="0.59151" stop-color="#7e0000"/><stop offset="0.59357" stop-color="#850000"/><stop offset="0.59563" stop-color="#890000"/><stop offset="0.59769" stop-color="#8c0000"/><stop offset="0.59976" stop-color="#8c0000"/><stop offset="0.60182" stop-color="#8a0000"/><stop offset="0.60388" stop-color="#860000"/><stop offset="0.60594" stop-color="#810000"/><stop offset="0.608" stop-color="#7a0000"/><stop offset="0.61006" stop-color="#700000"/><stop offset="0.61212" stop-color="#630000"/><stop offset="0.61418" stop-color="#500000"/><stop offset="0.61624" stop-color="#330000"/><stop offset="0.6183" stop-color="#000000"/><stop offset="0.62243" stop-color="#000000"/><stop offset="0.62449" stop-color="#240000"/><stop offset="0.62655" stop-color="#450000"/><stop offset="0.62861" stop-color="#580000"/><stop offset="0.63067" stop-color="#640000"/><stop offset="0.63273" stop-color="#6d0000"/><stop offset="0.63479" stop-color="#730000"/><stop offset="0.63685" stop-color="#770000"/><stop offset="0.63891" stop-color="#7a0000"/><stop offset="0.64098" stop-color="#790000"/><stop offset="0.64304" stop-color="#770000"/><stop offset="0.6451" stop-color="#720000"/><stop offset="0.64716" stop-color="#6c0000"/><stop offset="0.64922" stop-color="#640000"/><stop offset="0.65128" stop-color="#590000"/><stop offset="0.65334" stop-color="#4a0000"/><stop offset="0.6554" stop-color="#340000"/><stop offset="0.65746" stop-color="#0d0000"/><stop offset="0.65952" stop-color="#000000"/><stop offset="0.66365" stop-color="#000000"/><stop offset="0.66571" stop-color="#270000"/><stop offset="0.66777" stop-color="#400000"/><stop offset="0.66983" stop-color="#4f0000"/><stop offset="0.67189" stop-color="#5a0000"/><stop offset="0.67395" stop-color="#620000"/><stop offset="0.67601" stop-color="#670000"/><stop offset="0.67807" stop-color="#6a0000"/><stop offset="0.68013" stop-color="#6c0000"/><stop offset="0.6822" stop-color="#6a0000"/><stop offset="0.68426" stop-color="#670000"/><stop offset="0.68632" stop-color="#620000"/><stop offset="0.68838" stop-color="#5c0000"/><stop offset="0.69044" stop-color="#520000"/><stop offset="0.6925" stop-color="#460000"/><stop offset="0.69456" stop-color="#340000"/><stop offset="0.69662" stop-color="#180000"/><stop offset="0.69868" stop-color="#000000"/><stop offset="0.70281" stop-color="#000000"/><stop offset="0.70487" stop-color="#060000"/><stop offset="0.70693" stop-color="#280000"/><stop offset="0.70899" stop-color="#3c0000"/><stop offset="0.71105" stop-color="#490000"/><stop offset="0.71311" stop-color="#520000"/><stop offset="0.71517" stop-color="#590000"/><stop offset="0.71723" stop-color="#5d0000"/><stop offset="0.71929" stop-color="#600000"/><stop offset="0.72135" stop-color="#600000"/><stop offset="0.72342" stop-color="#5e0000"/><stop offset="0.72548" stop-color="#5a0000"/><stop offset="0.72754" stop-color="#550000"/><stop offset="0.7296" stop-color="#4d0000"/><stop offset="0.73166" stop-color="#420000"/><stop offset="0.73372" stop-color="#340000"/><stop offset="0.73578" stop-color="#1e0000"/><stop offset="0.73784" stop-color="#000000"/><stop offset="0.74403" stop-color="#000000"/><stop offset="0.74609" stop-color="#0f0000"/><stop offset="0.74815" stop-color="#290000"/><stop offset="0.75021" stop-color="#390000"/><stop offset="0.75227" stop-color="#440000"/><stop offset="0.75433" stop-color="#4c0000"/><stop offset="0.75639" stop-color="#520000"/><stop offset="0.75845" stop-color="#550000"/><stop offset="0.76051" stop-color="#570000"/><stop offset="0.76258" stop-color="#560000"/><stop offset="0.76464" stop-color="#530000"/><stop offset="0.7667" stop-color="#4f0000"/><stop offset="0.76876" stop-color="#480000"/><stop offset="0.77082" stop-color="#3f0000"/><stop offset="0.77288" stop-color="#330000"/><stop offset="0.77494" stop-color="#220000"/><stop offset="0.777" stop-color="#070000"/><stop offset="0.77906" stop-color="#000000"/><stop offset="0.78525" stop-color="#000000"/><stop offset="0.78731" stop-color="#150000"/><stop offset="0.78937" stop-color="#290000"/><stop offset="0.79143" stop-color="#370000"/><stop offset="0.79349" stop-color="#400000"/><stop offset="0.79555" stop-color="#470000"/><stop offset="0.79761" stop-color="#4c0000"/><stop offset="0.79967" stop-color="#4f0000"/><stop offset="0.80173" stop-color="#4f0000"/><stop offset="0.8038" stop-color="#4d0000"/><stop offset="0.80586" stop-color="#4a0000"/><stop offset="0.80792" stop-color="#440000"/><stop offset="0.80998" stop-color="#3d0000"/><stop offset="0.81204" stop-color="#320000"/><stop offset="0.8141" stop-color="#240000"/><stop offset="0.81616" stop-color="#0f0000"/><stop offset="0.81822" stop-color="#000000"/><stop offset="0.82647" stop-color="#000000"/><stop offset="0.82853" stop-color="#190000"/><stop offset="0.83059" stop-color="#290000"/><stop offset="0.83265" stop-color="#340000"/><stop offset="0.83471" stop-color="#3d0000"/><stop offset="0.83677" stop-color="#420000"/><stop offset="0.83883" stop-color="#460000"/><stop offset="0.84089" stop-color="#480000"/><stop offset="0.84295" stop-color="#480000"/><stop offset="0.84502" stop-color="#450000"/><stop offset="0.84708" stop-color="#400000"/><stop offset="0.84914" stop-color="#3a0000"/><stop offset="0.8512" stop-color="#310000"/><stop offset="0.85326" stop-color="#250000"/><stop offset="0.85532" stop-color="#140000"/><stop offset="0.85738" stop-color="#000000"/><stop offset="0.86563" stop-color="#000000"/><stop offset="0.86769" stop-color="#060000"/><stop offset="0.86975" stop-color="#1b0000"/><stop offset="0.87181" stop-color="#290000"/><stop offset="0.87387" stop-color="#320000"/><stop offset="0.87593" stop-color="#390000"/><stop offset="0.87799" stop-color="#3e0000"/><stop offset="0.88005" stop-color="#410000"/><stop offset="0.88211" stop-color="#420000"/><stop offset="0.88418" stop-color="#400000"/><stop offset="0.88624" stop-color="#3d0000"/><stop offset="0.8883" stop-color="#380000"/><stop offset="0.89036" stop-color="#300000"/><stop offset="0.89242" stop-color="#260000"/><stop offset="0.89448" stop-color="#180000"/><stop offset="0.89654" stop-color="#040000"/><stop offset="0.8986" stop-color="#000000"/><stop offset="0.90685" stop-color="#000000"/><stop offset="0.90891" stop-color="#0c0000"/><stop offset="0.91097" stop-color="#1c0000"/><stop offset="0.91303" stop-color="#280000"/><stop offset="0.91509" stop-color="#300000"/><stop offset="0.91715" stop-color="#360000"/><stop offset="0.91921" stop-color="#3a0000"/><stop offset="0.92127" stop-color="#3d0000"/><stop offset="0.92333" stop-color="#3c0000"/><stop offset="0.9254" stop-color="#390000"/><stop offset="0.92746" stop-color="#350000"/><stop offset="0.92952" stop-color="#2f0000"/><stop offset="0.93158" stop-color="#260000"/><stop offset="0.93364" stop-color="#1b0000"/><stop offset="0.9357" stop-color="#0a0000"/><stop offset="0.93776" stop-color="#000000"/><stop offset="0.94807" stop-color="#000000"/><stop offset="0.95013" stop-color="#0f0000"/><stop offset="0.95219" stop-color="#1d0000"/><stop offset="0.95425" stop-color="#270000"/><stop offset="0.95631" stop-color="#2e0000"/><stop offset="0.95837" stop-color="#330000"/><stop offset="0.96043" stop-color="#370000"/><stop offset="0.96249" stop-color="#380000"/><stop offset="0.96455" stop-color="#360000"/><stop offset="0.96662" stop-color="#330000"/><stop offset="0.96868" stop-color="#2d0000"/><stop offset="0.97074" stop-color="#260000"/><stop offset="0.9728" stop-color="#1c0000"/><stop offset="0.97486" stop-color="#0f0000"/><stop offset="0.97692" stop-color="#000000"/><stop offset="0.98723" stop-color="#000000"/><stop offset="0.98929" stop-color="#010000"/><stop offset="0.99135" stop-color="#120000"/><stop offset="0.99341" stop-color="#1e0000"/><stop offset="0.99547" stop-color="#260000"/><stop offset="0.99753" stop-color="#2c0000"/><stop offset="0.99959" stop-color="#300000"/></linearGradient>
<linearGradient id="gvb" gradientUnits="userSpaceOnUse" x1="414.416" y1="2.811" x2="408.784" y2="211.389"><stop offset="0" stop-color="#003f00"/><stop offset="0.0024" stop-color="#004200"/><stop offset="0.00479" stop-color="#004300"/><stop offset="0.00719" stop-color="#004100"/><stop offset="0.00958" stop-color="#003e00"/><stop offset="0.01198" stop-color="#003a00"/><stop offset="0.01437" stop-color="#003400"/><stop offset="0.01677" stop-color="#002c00"/><stop offset="0.01916" stop-color="#002100"/><stop offset="0.02156" stop-color="#001200"/><stop offset="0.02395" stop-color="#000000"/><stop offset="0.03593" stop-color="#000000"/><stop offset="0.03833" stop-color="#001200"/><stop offset="0.04072" stop-color="#002200"/><stop offset="0.04312" stop-color="#002e00"/><stop offset="0.04551" stop-color="#003700"/><stop offset="0.04791" stop-color="#003d00"/><stop offset="0.0503" stop-color="#004200"/><stop offset="0.0527" stop-color="#004600"/><stop offset="0.0551" stop-color="#004800"/><stop offset="0.05749" stop-color="#004900"/><stop offset="0.05989" stop-color="#004700"/><stop offset="0.06228" stop-color="#004400"/><stop offset="0.06468" stop-color="#003f00"/><stop offset="0.06707" stop-color="#003900"/><stop offset="0.06947" stop-color="#003000"/><stop offset="0.07186" stop-color="#002500"/><stop offset="0.07426" stop-color="#001500"/><stop offset="0.07665" stop-color="#000000"/><stop offset="0.08624" stop-color="#000000"/><stop offset="0.08863" stop-color="#000700"/><stop offset="0.09103" stop-color="#001d00"/><stop offset="0.09342" stop-color="#002c00"/><stop offset="0.09582" stop-color="#003700"/><stop offset="0.09821" stop-color="#003f00"/><stop offset="0.10061" stop-color="#004500"/><stop offset="0.103" stop-color="#004a00"/><stop offset="0.1054" stop-color="#004d00"/><stop offset="0.1078" stop-color="#004f00"/><stop offset="0.11019" stop-color="#004f00"/><stop offset="0.11259" stop-color="#004d00"/><stop offset="0.11498" stop-color="#004a00"/><stop offset="0.11738" stop-color="#004500"/><stop offset="0.11977" stop-color="#003f00"/><stop offset="0.12217" stop-color="#003600"/><stop offset="0.12456" stop-color="#002900"/><stop offset="0.12696" stop-color="#001800"/><stop offset="0.12935" stop-color="#000000"/><stop offset="0.13894" stop-color="#000000"/><stop offset="0.14133" stop-color="#001300"/><stop offset="0.14373" stop-color="#002800"/><stop offset="0.14612" stop-color="#003600"/><stop offset="0.14852" stop-color="#004000"/><stop offset="0.15091" stop-color="#004800"/><stop offset="0.15331" stop-color="#004e00"/><stop offset="0.1557" stop-color="#005300"/><stop offset="0.1581" stop-color="#005600"/><stop offset="0.16049" stop-color="#005700"/><stop offset="0.16289" stop-color="#005700"/><stop offset="0.16529" stop-color="#005500"/><stop offset="0.16768" stop-color="#005100"/><stop offset="0.17008" stop-color="#004c00"/><stop offset="0.17247" stop-color="#004500"/><stop offset="0.17487" stop-color="#003c00"/><stop offset="0.17726" stop-color="#002f00"/><stop offset="0.17966" stop-color="#001c00"/><stop offset="0.18205" stop-color="#000000"/><stop offset="0.18924" stop-color="#000000"/><stop offset="0.19164" stop-color="#000300"/><stop offset="0.19403" stop-color="#002100"/><stop offset="0.19643" stop-color="#003400"/><stop offset="0.19882" stop-color="#004100"/><stop offset="0.20122" stop-color="#004b00"/><stop offset="0.20361" stop-color="#005200"/><stop offset="0.20601" stop-color="#005800"/><stop offset="0.2084" stop-color="#005c00"/><stop offset="0.2108" stop-color="#005f00"/><stop offset="0.21319" stop-color="#006100"/><stop offset="0.21559" stop-color="#006000"/><stop offset="0.21799" stop-color="#005e00"/><stop offset="0.22038" stop-color="#005a00"/><stop offset="0.22278" stop-color="#005500"/><stop offset="0.22517" stop-color="#004d00"/><stop offset="0.22757" stop-color="#004300"/><stop offset="0.22996" stop-color="#003500"/><stop offset="0.23236" stop-color="#002100"/><stop offset="0.23475" stop-color="#000000"/><stop offset="0.24194" stop-color="#000000"/><stop offset="0.24434" stop-color="#001500"/><stop offset="0.24673" stop-color="#003000"/><stop offset="0.24913" stop-color="#004100"/><stop offset="0.25152" stop-color="#004e00"/><stop offset="0.25392" stop-color="#005700"/><stop offset="0.25631" stop-color="#005e00"/><stop offset="0.25871" stop-color="#006400"/><stop offset="0.2611" stop-color="#006800"/><stop offset="0.2635" stop-color="#006b00"/><stop offset="0.26589" stop-color="#006c00"/><stop offset="0.26829" stop-color="#006b00"/><stop offset="0.27069" stop-color="#006800"/><stop offset="0.27308" stop-color="#006500"/><stop offset="0.27548" stop-color="#005f00"/><stop offset="0.27787" stop-color="#005700"/><stop offset="0.28027" stop-color="#004d00"/><stop offset="0.28266" stop-color="#003e00"/><stop offset="0.28506" stop-color="#002700"/><stop offset="0.28745" stop-color="#000000"/><stop offset="0.29464" stop-color="#000000"/><stop offset="0.29704" stop-color="#002800"/><stop offset="0.29943" stop-color="#004000"/><stop offset="0.30183" stop-color="#005100"/><stop offset="0.30422" stop-color="#005d00"/><stop offset="0.30662" stop-color="#006600"/><stop offset="0.30901" stop-color="#006d00"/><stop offset="0.31141" stop-color="#007200"/><stop offset="0.3138" stop-color="#007600"/><stop offset="0.3162" stop-color="#007900"/><stop offset="0.31859" stop-color="#007a00"/><stop offset="0.32099" stop-color="#007900"/><stop offset="0.32339" stop-color="#007600"/><stop offset="0.32578" stop-color="#007200"/><stop offset="0.32818" stop-color="#006c00"/><stop offset="0.33057" stop-color="#006400"/><stop offset="0.33297" stop-color="#005900"/><stop offset="0.33536" stop-color="#004a00"/><stop offset="0.33776" stop-color="#003100"/><stop offset="0.34015" stop-color="#000000"/><stop offset="0.34494" stop-color="#000000"/><stop offset="0.34734" stop-color="#001700"/><stop offset="0.34974" stop-color="#003e00"/><stop offset="0.35213" stop-color="#005500"/><stop offset="0.35453" stop-color="#006400"/><stop offset="0.35692" stop-color="#007000"/><stop offset="0.35932" stop-color="#007900"/><stop offset="0.36171" stop-color="#008000"/><stop offset="0.36411" stop-color="#008500"/><stop offset="0.3665" stop-color="#008900"/><stop offset="0.3689" stop-color="#008b00"/><stop offset="0.37129" stop-color="#008d00"/><stop offset="0.37369" stop-color="#008c00"/><stop offset="0.37609" stop-color="#008900"/><stop offset="0.37848" stop-color="#008500"/><stop offset="0.38088" stop-color="#007f00"/><stop offset="0.38327" stop-color="#007700"/><stop offset="0.38567" stop-color="#006c00"/><stop offset="0.38806" stop-color="#005b00"/><stop offset="0.39046" stop-color="#004000"/><stop offset="0.39285" stop-color="#000000"/><stop offset="0.39764" stop-color="#000000"/><stop offset="0.40004" stop-color="#003800"/><stop offset="0.40243" stop-color="#005b00"/><stop offset="0.40483" stop-color="#007000"/><stop offset="0.40723" stop-color="#007f00"/><stop offset="0.40962" stop-color="#008b00"/><stop offset="0.41202" stop-color="#009400"/><stop offset="0.41441" stop-color="#009b00"/><stop offset="0.41681" stop-color="#00a000"/><stop offset="0.4192" stop-color="#00a500"/><stop offset="0.4216" stop-color="#00a800"/><stop offset="0.42399" stop-color="#00aa00"/><stop offset="0.42639" stop-color="#00aa00"/><stop offset="0.42878" stop-color="#00a800"/><stop offset="0.43118" stop-color="#00a400"/><stop offset="0.43358" stop-color="#009f00"/><stop offset="0.43597" stop-color="#009700"/><stop offset="0.43837" stop-color="#008c00"/><stop offset="0.44076" stop-color="#007a00"/><stop offset="0.44316" stop-color="#005c00"/><stop offset="0.44555" stop-color="#000200"/><stop offset="0.44795" stop-color="#000000"/><stop offset="0.45034" stop-color="#001e00"/><stop offset="0.45274" stop-color="#006900"/><stop offset="0.45513" stop-color="#008900"/><stop offset="0.45753" stop-color="#009f00"/><stop offset="0.45993" stop-color="#00af00"/><stop offset="0.46232" stop-color="#00bb00"/><stop offset="0.46472" stop-color="#00c600"/><stop offset="0.46711" stop-color="#00cf00"/><stop offset="0.46951" stop-color="#00d700"/><stop offset="0.4719" stop-color="#00dd00"/><stop offset="0.4743" stop-color="#00e300"/><stop offset="0.47669" stop-color="#00e800"/><stop offset="0.47909" stop-color="#00ed00"/><stop offset="0.48148" stop-color="#00f100"/><stop offset="0.48388" stop-color="#00f400"/><stop offset="0.48628" stop-color="#00f700"/><stop offset="0.48867" stop-color="#00f900"/><stop offset="0.49107" stop-color="#00fb00"/><stop offset="0.49346" stop-color="#00fd00"/><stop offset="0.49586" stop-color="#00fe00"/><stop offset="0.49825" stop-color="#00ff00"/><stop offset="0.50065" stop-color="#00ff00"/><stop offset="0.50304" stop-color="#00fe00"/><stop offset="0.50544" stop-color="#00fd00"/><stop offset="0.50783" stop-color="#00fc00"/><stop offset="0.51023" stop-color="#00fa00"/><stop offset="0.51263" stop-color="#00f800"/><stop offset="0.51502" stop-color="#00f500"/><stop offset="0.51742" stop-color="#00f200"/><stop offset="0.51981" stop-color="#00ef00"/><stop offset="0.52221" stop-color="#00ea00"/><stop offset="0.5246" stop-color="#00e600"/><stop offset="0.527" stop-color="#00e000"/><stop offset="0.52939" stop-color="#00da00"/><stop offset="0.53179" stop-color="#00d300"/><stop offset="0.53418" stop-color="#00ca00"/><stop offset="0.53658" stop-color="#00c100"/><stop offset="0.53898" stop-color="#00b500"/><stop offset="0.54137" stop-color="#00a700"/><stop offset="0.54377" stop-color="#009400"/><stop offset="0.54616" stop-color="#007a00"/><stop offset="0.54856" stop-color="#004c00"/><stop offset="0.55095" stop-color="#000000"/><stop offset="0.55335" stop-color="#000000"/><stop offset="0.55574" stop-color="#004400"/><stop offset="0.55814" stop-color="#006f00"/><stop offset="0.56053" stop-color="#008500"/><stop offset="0.56293" stop-color="#009200"/><stop offset="0.56533" stop-color="#009b00"/><stop offset="0.56772" stop-color="#00a200"/><stop offset="0.57012" stop-color="#00a600"/><stop offset="0.57251" stop-color="#00a900"/><stop offset="0.57491" stop-color="#00aa00"/><stop offset="0.5773" stop-color="#00a900"/><stop offset="0.5797" stop-color="#00a600"/><stop offset="0.58209" stop-color="#00a200"/><stop offset="0.58449" stop-color="#009d00"/><stop offset="0.58688" stop-color="#009700"/><stop offset="0.58928" stop-color="#008f00"/><stop offset="0.59168" stop-color="#008500"/><stop offset="0.59407" stop-color="#007800"/><stop offset="0.59647" stop-color="#006600"/><stop offset="0.59886" stop-color="#004b00"/><stop offset="0.60126" stop-color="#001500"/><stop offset="0.60365" stop-color="#000000"/><stop offset="0.60605" stop-color="#000000"/><stop offset="0.60844" stop-color="#002b00"/><stop offset="0.61084" stop-color="#005000"/><stop offset="0.61323" stop-color="#006500"/><stop offset="0.61563" stop-color="#007200"/><stop offset="0.61803" stop-color="#007c00"/><stop offset="0.62042" stop-color="#008300"/><stop offset="0.62282" stop-color="#008800"/><stop offset="0.62521" stop-color="#008b00"/><stop offset="0.62761" stop-color="#008d00"/><stop offset="0.63" stop-color="#008c00"/><stop offset="0.6324" stop-color="#008a00"/><stop offset="0.63479" stop-color="#008700"/><stop offset="0.63719" stop-color="#008200"/><stop offset="0.63958" stop-color="#007c00"/><stop offset="0.64198" stop-color="#007400"/><stop offset="0.64437" stop-color="#006a00"/><stop offset="0.64677" stop-color="#005c00"/><stop offset="0.64917" stop-color="#004a00"/><stop offset="0.65156" stop-color="#002c00"/><stop offset="0.65396" stop-color="#000000"/><stop offset="0.65875" stop-color="#000000"/><stop offset="0.66114" stop-color="#001f00"/><stop offset="0.66354" stop-color="#004000"/><stop offset="0.66593" stop-color="#005300"/><stop offset="0.66833" stop-color="#006000"/><stop offset="0.67072" stop-color="#006900"/><stop offset="0.67312" stop-color="#007000"/><stop offset="0.67552" stop-color="#007500"/><stop offset="0.67791" stop-color="#007800"/><stop offset="0.68031" stop-color="#007a00"/><stop offset="0.6827" stop-color="#007a00"/><stop offset="0.6851" stop-color="#007700"/><stop offset="0.68749" stop-color="#007400"/><stop offset="0.68989" stop-color="#007000"/><stop offset="0.69228" stop-color="#006900"/><stop offset="0.69468" stop-color="#006100"/><stop offset="0.69707" stop-color="#005700"/><stop offset="0.69947" stop-color="#004900"/><stop offset="0.70187" stop-color="#003400"/><stop offset="0.70426" stop-color="#001400"/><stop offset="0.70666" stop-color="#000000"/><stop offset="0.71145" stop-color="#000000"/><stop offset="0.71384" stop-color="#001800"/><stop offset="0.71624" stop-color="#003500"/><stop offset="0.71863" stop-color="#004700"/><stop offset="0.72103" stop-color="#005300"/><stop offset="0.72342" stop-color="#005c00"/><stop offset="0.72582" stop-color="#006200"/><stop offset="0.72822" stop-color="#006700"/><stop offset="0.73061" stop-color="#006a00"/><stop offset="0.73301" stop-color="#006c00"/><stop offset="0.7354" stop-color="#006b00"/><stop offset="0.7378" stop-color="#006900"/><stop offset="0.74019" stop-color="#006600"/><stop offset="0.74259" stop-color="#006100"/><stop offset="0.74498" stop-color="#005b00"/><stop offset="0.74738" stop-color="#005200"/><stop offset="0.74977" stop-color="#004700"/><stop offset="0.75217" stop-color="#003800"/><stop offset="0.75457" stop-color="#002300"/><stop offset="0.75696" stop-color="#000000"/><stop offset="0.76415" stop-color="#000000"/><stop offset="0.76654" stop-color="#001300"/><stop offset="0.76894" stop-color="#002d00"/><stop offset="0.77133" stop-color="#003d00"/><stop offset="0.77373" stop-color="#004900"/><stop offset="0.77612" stop-color="#005100"/><stop offset="0.77852" stop-color="#005800"/><stop offset="0.78092" stop-color="#005c00"/><stop offset="0.78331" stop-color="#005f00"/><stop offset="0.78571" stop-color="#006100"/><stop offset="0.7881" stop-color="#006000"/><stop offset="0.7905" stop-color="#005e00"/><stop offset="0.79289" stop-color="#005a00"/><stop offset="0.79529" stop-color="#005500"/><stop offset="0.79768" stop-color="#004f00"/><stop offset="0.80008" stop-color="#004600"/><stop offset="0.80247" stop-color="#003a00"/><stop offset="0.80487" stop-color="#002a00"/><stop offset="0.80727" stop-color="#001300"/><stop offset="0.80966" stop-color="#000000"/><stop offset="0.81685" stop-color="#000000"/><stop offset="0.81924" stop-color="#000f00"/><stop offset="0.82164" stop-color="#002700"/><stop offset="0.82403" stop-color="#003600"/><stop offset="0.82643" stop-color="#004100"/><stop offset="0.82882" stop-color="#004900"/><stop offset="0.83122" stop-color="#004f00"/><stop offset="0.83362" stop-color="#005300"/><stop offset="0.83601" stop-color="#005600"/><stop offset="0.83841" stop-color="#005800"/><stop offset="0.8408" stop-color="#005700"/><stop offset="0.8432" stop-color="#005400"/><stop offset="0.84559" stop-color="#005000"/><stop offset="0.84799" stop-color="#004b00"/><stop offset="0.85038" stop-color="#004400"/><stop offset="0.85278" stop-color="#003b00"/><stop offset="0.85517" stop-color="#002f00"/><stop offset="0.85757" stop-color="#001e00"/><stop offset="0.85997" stop-color="#000400"/><stop offset="0.86236" stop-color="#000000"/><stop offset="0.86955" stop-color="#000000"/><stop offset="0.87194" stop-color="#000d00"/><stop offset="0.87434" stop-color="#002200"/><stop offset="0.87673" stop-color="#003000"/><stop offset="0.87913" stop-color="#003b00"/><stop offset="0.88152" stop-color="#004200"/><stop offset="0.88392" stop-color="#004800"/><stop offset="0.88632" stop-color="#004c00"/><stop offset="0.88871" stop-color="#004f00"/><stop offset="0.89111" stop-color="#005000"/><stop offset="0.8935" stop-color="#004e00"/><stop offset="0.8959" stop-color="#004c00"/><stop offset="0.89829" stop-color="#004800"/><stop offset="0.90069" stop-color="#004200"/><stop offset="0.90308" stop-color="#003b00"/><stop offset="0.90548" stop-color="#003100"/><stop offset="0.90787" stop-color="#002400"/><stop offset="0.91027" stop-color="#001200"/><stop offset="0.91266" stop-color="#000000"/><stop offset="0.92225" stop-color="#000000"/><stop offset="0.92464" stop-color="#000b00"/><stop offset="0.92704" stop-color="#001e00"/><stop offset="0.92943" stop-color="#002c00"/><stop offset="0.93183" stop-color="#003500"/><stop offset="0.93422" stop-color="#003d00"/><stop offset="0.93662" stop-color="#004200"/><stop offset="0.93901" stop-color="#004600"/><stop offset="0.94141" stop-color="#004800"/><stop offset="0.94381" stop-color="#004900"/><stop offset="0.9462" stop-color="#004700"/><stop offset="0.9486" stop-color="#004400"/><stop offset="0.95099" stop-color="#004000"/><stop offset="0.95339" stop-color="#003a00"/><stop offset="0.95578" stop-color="#003200"/><stop offset="0.95818" stop-color="#002800"/><stop offset="0.96057" stop-color="#001a00"/><stop offset="0.96297" stop-color="#000700"/><stop offset="0.96536" stop-color="#000000"/><stop offset="0.97495" stop-color="#000000"/><stop offset="0.97734" stop-color="#000900"/><stop offset="0.97974" stop-color="#001b00"/><stop offset="0.98213" stop-color="#002700"/><stop offset="0.98453" stop-color="#003100"/><stop offset="0.98692" stop-color="#003700"/><stop offset="0.98932" stop-color="#003c00"/><stop offset="0.99171" stop-color="#004000"/><stop offset="0.99411" stop-color="#004200"/><stop offset="0.99651" stop-color="#004200"/><stop offset="0.9989" stop-color="#004000"/></linearGradient>
<clipPath id="cpb"><rect x="305.8" y="13.7" width="212.2" height="187"/></clipPath>
<filter id="pmb" filterUnits="userSpaceOnUse" x="303" y="11" width="217" height="192" color-interpolation-filters="sRGB"><feColorMatrix type="matrix" values="1 1 0 0 -1 1 1 0 0 -1 1 1 0 0 -1 0 0 0 0 1"/><feComponentTransfer><feFuncR type="table" tableValues="0.2422 0.2504 0.2578 0.2647 0.2706 0.2751 0.2783 0.2803 0.2813 0.281 0.2795 0.276 0.2699 0.2602 0.244 0.2206 0.1963 0.1834 0.1786 0.1764 0.1687 0.154 0.146 0.138 0.1248 0.1113 0.0952 0.0689 0.0297 0.0036 0.0067 0.0433 0.0964 0.1408 0.1717 0.1938 0.2161 0.247 0.2906 0.3406 0.3909 0.4456 0.5044 0.5616 0.6174 0.672 0.7242 0.7738 0.8203 0.8634 0.9035 0.9393 0.9728 0.9956 0.997 0.9952 0.9892 0.9786 0.9676 0.961 0.9597 0.9628 0.9691 0.9769"/><feFuncG type="table" tableValues="0.1504 0.165 0.1818 0.1978 0.2147 0.2342 0.2559 0.2782 0.3006 0.3228 0.3447 0.3667 0.3892 0.4123 0.4358 0.4603 0.4847 0.5074 0.5289 0.5499 0.5703 0.5902 0.6091 0.6276 0.6459 0.6635 0.6798 0.6948 0.7082 0.7203 0.7312 0.7411 0.75 0.7584 0.767 0.7758 0.7843 0.7918 0.7973 0.8008 0.8029 0.8024 0.7993 0.7942 0.7876 0.7793 0.7698 0.7598 0.7498 0.7406 0.733 0.7288 0.7298 0.7434 0.7659 0.7893 0.8136 0.8386 0.8639 0.889 0.9135 0.9373 0.9606 0.9839"/><feFuncB type="table" tableValues="0.6603 0.7076 0.7511 0.7952 0.8364 0.871 0.8991 0.9221 0.9414 0.9579 0.9717 0.9829 0.9906 0.9952 0.9988 0.9973 0.9892 0.9798 0.9682 0.952 0.9359 0.9218 0.9079 0.8973 0.8883 0.8763 0.8598 0.8394 0.8163 0.7917 0.766 0.7394 0.712 0.6842 0.6554 0.6251 0.5923 0.5567 0.5188 0.4789 0.4354 0.3909 0.348 0.3045 0.2612 0.2227 0.191 0.1646 0.1535 0.1596 0.1774 0.21 0.2394 0.2371 0.2199 0.2028 0.1885 0.1766 0.1643 0.1537 0.1423 0.1265 0.1064 0.0805"/></feComponentTransfer></filter>
<linearGradient id="cbb" x1="0" y1="0" x2="0" y2="1"><stop offset="0" stop-color="#f9fb15"/><stop offset="0.0159" stop-color="#f7f51b"/><stop offset="0.0317" stop-color="#f6ef20"/><stop offset="0.0476" stop-color="#f5e924"/><stop offset="0.0635" stop-color="#f5e327"/><stop offset="0.0794" stop-color="#f7dc2a"/><stop offset="0.0952" stop-color="#fad62d"/><stop offset="0.1111" stop-color="#fccf30"/><stop offset="0.127" stop-color="#fec934"/><stop offset="0.1429" stop-color="#fec338"/><stop offset="0.1587" stop-color="#febe3c"/><stop offset="0.1746" stop-color="#f8ba3d"/><stop offset="0.1905" stop-color="#f0ba36"/><stop offset="0.2063" stop-color="#e6bb2d"/><stop offset="0.2222" stop-color="#dcbd29"/><stop offset="0.2381" stop-color="#d1bf27"/><stop offset="0.254" stop-color="#c5c22a"/><stop offset="0.2698" stop-color="#b9c431"/><stop offset="0.2857" stop-color="#abc739"/><stop offset="0.3016" stop-color="#9dc943"/><stop offset="0.3175" stop-color="#8fcb4e"/><stop offset="0.3333" stop-color="#81cc59"/><stop offset="0.3492" stop-color="#72cd64"/><stop offset="0.3651" stop-color="#64cd6f"/><stop offset="0.381" stop-color="#57cc7a"/><stop offset="0.3968" stop-color="#4acb84"/><stop offset="0.4127" stop-color="#3fca8e"/><stop offset="0.4286" stop-color="#37c897"/><stop offset="0.4444" stop-color="#31c69f"/><stop offset="0.4603" stop-color="#2cc4a7"/><stop offset="0.4762" stop-color="#24c1ae"/><stop offset="0.4921" stop-color="#19bfb6"/><stop offset="0.5079" stop-color="#0bbdbd"/><stop offset="0.5238" stop-color="#02bac3"/><stop offset="0.5397" stop-color="#01b8ca"/><stop offset="0.5556" stop-color="#08b5d0"/><stop offset="0.5714" stop-color="#12b1d6"/><stop offset="0.5873" stop-color="#18addb"/><stop offset="0.6032" stop-color="#1ca9df"/><stop offset="0.619" stop-color="#20a5e3"/><stop offset="0.6349" stop-color="#23a0e5"/><stop offset="0.6508" stop-color="#259be8"/><stop offset="0.6667" stop-color="#2797eb"/><stop offset="0.6825" stop-color="#2b91ef"/><stop offset="0.6984" stop-color="#2d8cf3"/><stop offset="0.7143" stop-color="#2e87f7"/><stop offset="0.7302" stop-color="#2f81fa"/><stop offset="0.746" stop-color="#327cfc"/><stop offset="0.7619" stop-color="#3875fe"/><stop offset="0.7778" stop-color="#3e6fff"/><stop offset="0.7937" stop-color="#4269fe"/><stop offset="0.8095" stop-color="#4563fd"/><stop offset="0.8254" stop-color="#465efb"/><stop offset="0.8413" stop-color="#4758f8"/><stop offset="0.8571" stop-color="#4852f4"/><stop offset="0.873" stop-color="#484df0"/><stop offset="0.8889" stop-color="#4747eb"/><stop offset="0.9048" stop-color="#4741e5"/><stop offset="0.9206" stop-color="#463cde"/><stop offset="0.9365" stop-color="#4537d5"/><stop offset="0.9524" stop-color="#4332cb"/><stop offset="0.9683" stop-color="#422ec0"/><stop offset="0.9841" stop-color="#402ab4"/><stop offset="1" stop-color="#3e26a8"/></linearGradient>
</defs>
<g clip-path="url(#cpa)"><g filter="url(#pma)"><rect x="28" y="14" width="218" height="185" fill="url(#gua)"/><rect x="28" y="14" width="218" height="185" fill="url(#gva)" style="mix-blend-mode:lighten"/></g></g>
<rect x="30.1" y="16.2" width="212.95" height="180.6" fill="none" stroke="#262626" stroke-opacity="0.55" stroke-width="0.5"/>
<path d="M54.05 196.8v-2M54.05 16.2v2M81.5 196.8v-2M81.5 16.2v2M108.95 196.8v-2M108.95 16.2v2M136.4 196.8v-2M136.4 16.2v2M163.85 196.8v-2M163.85 16.2v2M191.3 196.8v-2M191.3 16.2v2M218.75 196.8v-2M218.75 16.2v2M30.1 34.8h2M243.05 34.8h-2M30.1 52.7h2M243.05 52.7h-2M30.1 70.6h2M243.05 70.6h-2M30.1 88.5h2M243.05 88.5h-2M30.1 106.4h2M243.05 106.4h-2M30.1 124.3h2M243.05 124.3h-2M30.1 142.2h2M243.05 142.2h-2M30.1 160.1h2M243.05 160.1h-2M30.1 178h2M243.05 178h-2" stroke="#262626" stroke-opacity="0.55" stroke-width="0.5" fill="none"/>
<text x="54.05" y="206.45" font-size="7.5" text-anchor="middle" fill="#262626">-<tspan dx="-0.4">0.6</tspan></text>
<text x="81.5" y="206.45" font-size="7.5" text-anchor="middle" fill="#262626">-<tspan dx="-0.4">0.4</tspan></text>
<text x="108.95" y="206.45" font-size="7.5" text-anchor="middle" fill="#262626">-<tspan dx="-0.4">0.2</tspan></text>
<text x="136.4" y="206.45" font-size="7.5" text-anchor="middle" fill="#262626">0</text>
<text x="163.85" y="206.45" font-size="7.5" text-anchor="middle" fill="#262626">0.2</text>
<text x="191.3" y="206.45" font-size="7.5" text-anchor="middle" fill="#262626">0.4</text>
<text x="218.75" y="206.45" font-size="7.5" text-anchor="middle" fill="#262626">0.6</text>
<text x="27.3" y="19.55" font-size="7.5" text-anchor="end" fill="#262626">-<tspan dx="-0.9">0.5</tspan></text>
<text x="27.3" y="37.44" font-size="7.5" text-anchor="end" fill="#262626">-<tspan dx="-0.9">0.4</tspan></text>
<text x="27.3" y="55.33" font-size="7.5" text-anchor="end" fill="#262626">-<tspan dx="-0.9">0.3</tspan></text>
<text x="27.3" y="73.22" font-size="7.5" text-anchor="end" fill="#262626">-<tspan dx="-0.9">0.2</tspan></text>
<text x="27.3" y="91.11" font-size="7.5" text-anchor="end" fill="#262626">-<tspan dx="-0.9">0.1</tspan></text>
<text x="27.3" y="109" font-size="7.5" text-anchor="end" fill="#262626">0</text>
<text x="27.3" y="126.89" font-size="7.5" text-anchor="end" fill="#262626">0.1</text>
<text x="27.3" y="144.78" font-size="7.5" text-anchor="end" fill="#262626">0.2</text>
<text x="27.3" y="162.67" font-size="7.5" text-anchor="end" fill="#262626">0.3</text>
<text x="27.3" y="180.56" font-size="7.5" text-anchor="end" fill="#262626">0.4</text>
<text x="27.3" y="198.45" font-size="7.5" text-anchor="end" fill="#262626">0.5</text>
<text x="135.8" y="12.6" font-size="8.3" text-anchor="middle" textLength="70.4" lengthAdjust="spacingAndGlyphs" fill="#000" stroke="#000" stroke-width="0.2">SAR Reconstruction</text>
<text x="135.93" y="216.8" font-size="8" text-anchor="middle" textLength="58.25" lengthAdjust="spacingAndGlyphs" fill="#262626" stroke="#262626" stroke-width="0.3">Range X, meters</text>
<text transform="translate(10 107.6) rotate(-90)" font-size="8.4" text-anchor="middle" textLength="74.4" lengthAdjust="spacingAndGlyphs" fill="#262626" stroke="#262626" stroke-width="0.3">Cross-range Y, meters</text>
<rect x="249" y="16.2" width="12" height="180.8" fill="url(#cba)" stroke="#262626" stroke-opacity="0.75" stroke-width="0.5"/>
<path d="M261 38.8h-1.5M261 61.4h-1.5M261 84h-1.5M261 106.6h-1.5M261 129.2h-1.5M261 151.8h-1.5M261 174.4h-1.5" stroke="#262626" stroke-opacity="0.6" stroke-width="0.5" fill="none"/>
<text x="263.3" y="18.55" font-size="6.5" fill="#3a3a3a">0</text>
<text x="263.3" y="41.15" font-size="6.5" fill="#3a3a3a">-<tspan dx="-0.7">5</tspan></text>
<text x="263.3" y="63.75" font-size="6.5" fill="#3a3a3a">-<tspan dx="-0.7">10</tspan></text>
<text x="263.3" y="86.35" font-size="6.5" fill="#3a3a3a">-<tspan dx="-0.7">15</tspan></text>
<text x="263.3" y="108.95" font-size="6.5" fill="#3a3a3a">-<tspan dx="-0.7">20</tspan></text>
<text x="263.3" y="131.55" font-size="6.5" fill="#3a3a3a">-<tspan dx="-0.7">25</tspan></text>
<text x="263.3" y="154.15" font-size="6.5" fill="#3a3a3a">-<tspan dx="-0.7">30</tspan></text>
<text x="263.3" y="176.75" font-size="6.5" fill="#3a3a3a">-<tspan dx="-0.7">35</tspan></text>
<text x="263.3" y="199.35" font-size="6.5" fill="#3a3a3a">-<tspan dx="-0.7">40</tspan></text>
<text x="254.65" y="15.9" font-size="9.6" text-anchor="middle" textLength="11.9" lengthAdjust="spacingAndGlyphs" fill="#000">dB</text>
<text x="137.15" y="237.1" class="cap" font-size="12.3" text-anchor="middle" textLength="15.3" lengthAdjust="spacingAndGlyphs" fill="#000">(<tspan font-weight="bold">a</tspan>)</text>
<g clip-path="url(#cpb)"><g filter="url(#pmb)"><rect x="303" y="11" width="217" height="192" fill="url(#gub)"/><rect x="303" y="11" width="217" height="192" fill="url(#gvb)" style="mix-blend-mode:lighten"/></g></g>
<rect x="305.8" y="13.7" width="212.2" height="187" fill="none" stroke="#262626" stroke-opacity="0.55" stroke-width="0.5"/>
<path d="M327.05 200.7v-2M327.05 13.7v2M355.3 200.7v-2M355.3 13.7v2M383.55 200.7v-2M383.55 13.7v2M411.8 200.7v-2M411.8 13.7v2M440.05 200.7v-2M440.05 13.7v2M468.3 200.7v-2M468.3 13.7v2M496.55 200.7v-2M496.55 13.7v2M305.8 32.58h2M518 32.58h-2M305.8 51.26h2M518 51.26h-2M305.8 69.94h2M518 69.94h-2M305.8 88.62h2M518 88.62h-2M305.8 107.3h2M518 107.3h-2M305.8 125.98h2M518 125.98h-2M305.8 144.66h2M518 144.66h-2M305.8 163.34h2M518 163.34h-2M305.8 182.02h2M518 182.02h-2" stroke="#262626" stroke-opacity="0.55" stroke-width="0.5" fill="none"/>
<text x="327.1" y="210.75" font-size="7.5" text-anchor="middle" fill="#262626">-<tspan dx="-0.1">0.6</tspan></text>
<text x="355.4" y="210.75" font-size="7.5" text-anchor="middle" fill="#262626">-<tspan dx="-0.1">0.4</tspan></text>
<text x="383.7" y="210.75" font-size="7.5" text-anchor="middle" fill="#262626">-<tspan dx="-0.1">0.2</tspan></text>
<text x="411.4" y="210.75" font-size="7.5" text-anchor="middle" fill="#262626">0</text>
<text x="439.7" y="210.75" font-size="7.5" text-anchor="middle" fill="#262626">0.2</text>
<text x="468" y="210.75" font-size="7.5" text-anchor="middle" fill="#262626">0.4</text>
<text x="496.3" y="210.75" font-size="7.5" text-anchor="middle" fill="#262626">0.6</text>
<text x="303.2" y="16.65" font-size="7.5" text-anchor="end" fill="#262626">-<tspan dx="-0.9">0.5</tspan></text>
<text x="303.2" y="35.33" font-size="7.5" text-anchor="end" fill="#262626">-<tspan dx="-0.9">0.4</tspan></text>
<text x="303.2" y="54.01" font-size="7.5" text-anchor="end" fill="#262626">-<tspan dx="-0.9">0.3</tspan></text>
<text x="303.2" y="72.69" font-size="7.5" text-anchor="end" fill="#262626">-<tspan dx="-0.9">0.2</tspan></text>
<text x="303.2" y="91.37" font-size="7.5" text-anchor="end" fill="#262626">-<tspan dx="-0.9">0.1</tspan></text>
<text x="303.2" y="110.05" font-size="7.5" text-anchor="end" fill="#262626">0</text>
<text x="303.2" y="128.73" font-size="7.5" text-anchor="end" fill="#262626">0.1</text>
<text x="303.2" y="147.41" font-size="7.5" text-anchor="end" fill="#262626">0.2</text>
<text x="303.2" y="166.09" font-size="7.5" text-anchor="end" fill="#262626">0.3</text>
<text x="303.2" y="184.77" font-size="7.5" text-anchor="end" fill="#262626">0.4</text>
<text x="303.2" y="203.45" font-size="7.5" text-anchor="end" fill="#262626">0.5</text>
<text x="411.2" y="10.2" font-size="8.3" text-anchor="middle" textLength="69.6" lengthAdjust="spacingAndGlyphs" fill="#000" stroke="#000" stroke-width="0.2">SAR Reconstruction</text>
<text x="411.3" y="220.9" font-size="8" text-anchor="middle" textLength="57.4" lengthAdjust="spacingAndGlyphs" fill="#262626" stroke="#262626" stroke-width="0.3">Range X, meters</text>
<text transform="translate(286.4 109.25) rotate(-90)" font-size="8.4" text-anchor="middle" textLength="76.5" lengthAdjust="spacingAndGlyphs" fill="#262626" stroke="#262626" stroke-width="0.3">Cross-range Y, meters</text>
<rect x="523.7" y="14" width="11.5" height="186.7" fill="url(#cbb)" stroke="#262626" stroke-opacity="0.75" stroke-width="0.5"/>
<path d="M535.2 37.34h-1.5M535.2 60.67h-1.5M535.2 84.01h-1.5M535.2 107.35h-1.5M535.2 130.69h-1.5M535.2 154.02h-1.5M535.2 177.36h-1.5" stroke="#262626" stroke-opacity="0.6" stroke-width="0.5" fill="none"/>
<text x="538.1" y="16.85" font-size="6.5" fill="#3a3a3a">0</text>
<text x="538.1" y="40.16" font-size="6.5" fill="#3a3a3a">-<tspan dx="-0.7">5</tspan></text>
<text x="538.1" y="63.46" font-size="6.5" fill="#3a3a3a">-<tspan dx="-0.7">10</tspan></text>
<text x="538.1" y="86.77" font-size="6.5" fill="#3a3a3a">-<tspan dx="-0.7">15</tspan></text>
<text x="538.1" y="110.07" font-size="6.5" fill="#3a3a3a">-<tspan dx="-0.7">20</tspan></text>
<text x="538.1" y="133.38" font-size="6.5" fill="#3a3a3a">-<tspan dx="-0.7">25</tspan></text>
<text x="538.1" y="156.69" font-size="6.5" fill="#3a3a3a">-<tspan dx="-0.7">30</tspan></text>
<text x="538.1" y="179.99" font-size="6.5" fill="#3a3a3a">-<tspan dx="-0.7">35</tspan></text>
<text x="538.1" y="203.3" font-size="6.5" fill="#3a3a3a">-<tspan dx="-0.7">40</tspan></text>
<text x="529" y="12.9" font-size="11" text-anchor="middle" textLength="11.6" lengthAdjust="spacingAndGlyphs" fill="#000">dB</text>
<text x="414.1" y="237.1" class="cap" font-size="12.3" text-anchor="middle" textLength="16.6" lengthAdjust="spacingAndGlyphs" fill="#000">(<tspan font-weight="bold">b</tspan>)</text>
</svg>
</body></html>
